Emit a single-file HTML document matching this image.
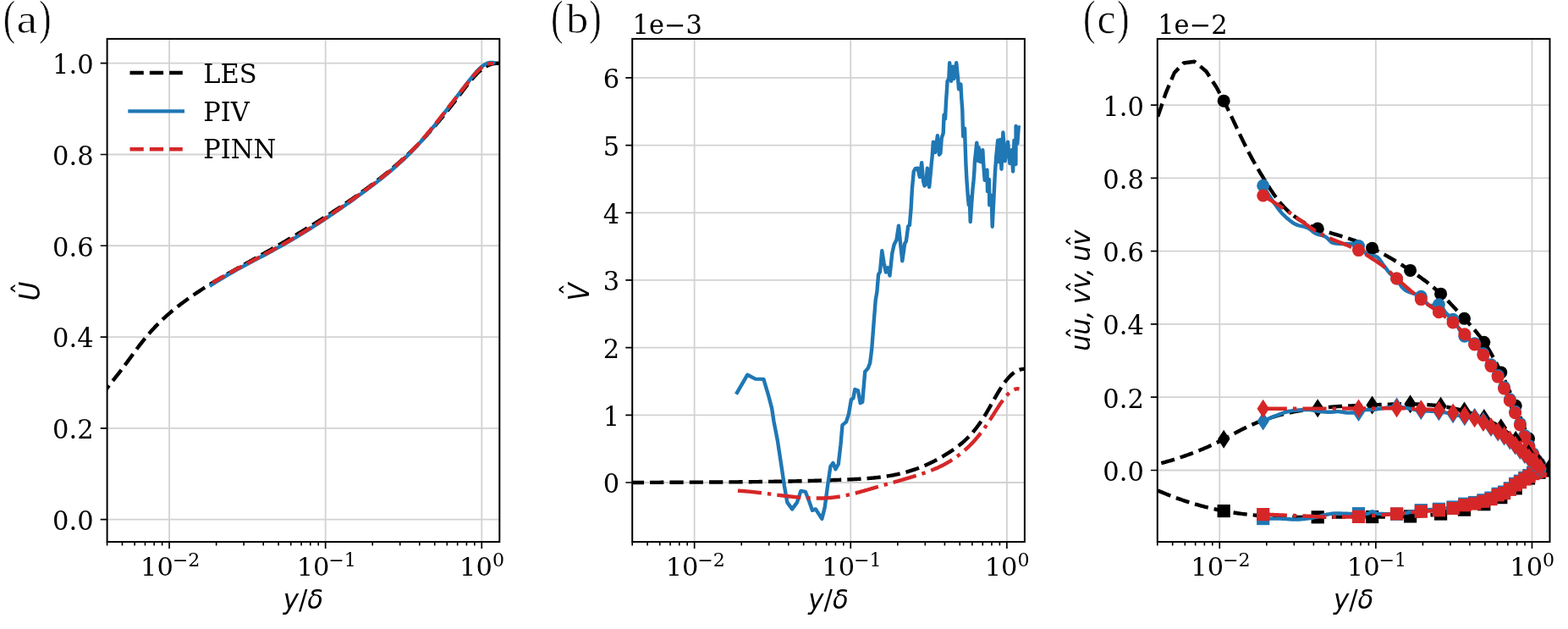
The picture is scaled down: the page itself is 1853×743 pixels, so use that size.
<!DOCTYPE html>
<html lang="en"><head><meta charset="utf-8"><title>Velocity and Reynolds stress profiles</title>
<style>html,body{margin:0;padding:0;background:#fff;overflow:hidden}svg{display:block}text{fill:#000}</style></head><body>
<svg width="1853" height="743" viewBox="0 0 1853 743">
<rect width="1853" height="743" fill="#fff"/>
<defs>
<clipPath id="c0"><rect x="126.6" y="45.9" width="463.7" height="594.2"/></clipPath>
<clipPath id="c1"><rect x="747.2" y="45.9" width="463.7" height="594.2"/></clipPath>
<clipPath id="c2"><rect x="1367.8" y="45.9" width="463.7" height="594.2"/></clipPath>
</defs>
<path d="M200.06 45.9 V640.1 M384.66 45.9 V640.1 M569.27 45.9 V640.1 M126.6 613.6 H590.3 M126.6 505.82 H590.3 M126.6 398.04 H590.3 M126.6 290.26 H590.3 M126.6 182.48 H590.3 M126.6 74.7 H590.3" stroke="#d2d2d2" stroke-width="1.8" fill="none"/>
<g clip-path="url(#c0)">
<path d="M118 469.91 L119.19 468.27 L120.38 466.65 L121.56 465.05 L122.75 463.46 L123.94 461.89 L125.13 460.34 L126.32 458.79 L127.5 457.25 L128.69 455.73 L129.88 454.21 L131.07 452.69 L132.26 451.18 L133.44 449.67 L134.63 448.17 L135.82 446.66 L137.01 445.15 L138.2 443.63 L139.38 442.11 L140.57 440.58 L141.76 439.05 L142.95 437.5 L144.14 435.94 L145.32 434.37 L146.51 432.79 L147.7 431.19 L148.89 429.59 L150.08 427.98 L151.26 426.36 L152.45 424.74 L153.64 423.12 L154.83 421.5 L156.02 419.87 L157.2 418.25 L158.39 416.64 L159.58 415.03 L160.77 413.43 L161.95 411.83 L163.14 410.25 L164.33 408.68 L165.52 407.12 L166.71 405.58 L167.89 404.05 L169.08 402.55 L170.27 401.06 L171.46 399.6 L172.65 398.16 L173.83 396.74 L175.02 395.34 L176.21 393.96 L177.4 392.61 L178.59 391.27 L179.77 389.96 L180.96 388.66 L182.15 387.39 L183.34 386.13 L184.53 384.89 L185.71 383.67 L186.9 382.47 L188.09 381.29 L189.28 380.12 L190.47 378.97 L191.65 377.84 L192.84 376.72 L194.03 375.61 L195.22 374.53 L196.41 373.45 L197.59 372.39 L198.78 371.35 L199.97 370.32 L201.16 369.3 L202.35 368.29 L203.53 367.3 L204.72 366.31 L205.91 365.34 L207.1 364.38 L208.29 363.43 L209.47 362.49 L210.66 361.57 L211.85 360.65 L213.04 359.74 L214.23 358.83 L215.41 357.94 L216.6 357.05 L217.79 356.18 L218.98 355.3 L220.17 354.44 L221.35 353.58 L222.54 352.73 L223.73 351.89 L224.92 351.05 L226.11 350.22 L227.29 349.4 L228.48 348.58 L229.67 347.77 L230.86 346.97 L232.05 346.17 L233.23 345.37 L234.42 344.59 L235.61 343.8 L236.8 343.03 L237.98 342.26 L239.17 341.49 L240.36 340.73 L241.55 339.97 L242.74 339.22 L243.92 338.47 L245.11 337.73 L246.3 336.99 L247.49 336.26 L248.68 335.53 L249.86 334.8 L251.05 334.08 L252.24 333.36 L253.43 332.65 L254.62 331.94 L255.8 331.23 L256.99 330.52 L258.18 329.82 L259.37 329.12 L260.56 328.43 L261.74 327.74 L262.93 327.05 L264.12 326.36 L265.31 325.67 L266.5 324.99 L267.68 324.31 L268.87 323.63 L270.06 322.95 L271.25 322.28 L272.44 321.6 L273.62 320.93 L274.81 320.26 L276 319.59 L277.19 318.92 L278.38 318.26 L279.56 317.59 L280.75 316.93 L281.94 316.26 L283.13 315.6 L284.32 314.93 L285.5 314.27 L286.69 313.6 L287.88 312.94 L289.07 312.28 L290.26 311.61 L291.44 310.95 L292.63 310.28 L293.82 309.62 L295.01 308.95 L296.2 308.29 L297.38 307.62 L298.57 306.95 L299.76 306.29 L300.95 305.62 L302.14 304.95 L303.32 304.28 L304.51 303.62 L305.7 302.95 L306.89 302.28 L308.08 301.61 L309.26 300.94 L310.45 300.27 L311.64 299.59 L312.83 298.92 L314.02 298.25 L315.2 297.57 L316.39 296.9 L317.58 296.22 L318.77 295.55 L319.95 294.87 L321.14 294.19 L322.33 293.51 L323.52 292.83 L324.71 292.15 L325.89 291.47 L327.08 290.78 L328.27 290.1 L329.46 289.42 L330.65 288.73 L331.83 288.04 L333.02 287.35 L334.21 286.67 L335.4 285.97 L336.59 285.28 L337.77 284.59 L338.96 283.9 L340.15 283.2 L341.34 282.5 L342.53 281.81 L343.71 281.11 L344.9 280.41 L346.09 279.71 L347.28 279 L348.47 278.3 L349.65 277.59 L350.84 276.88 L352.03 276.17 L353.22 275.46 L354.41 274.75 L355.59 274.04 L356.78 273.32 L357.97 272.61 L359.16 271.89 L360.35 271.17 L361.53 270.44 L362.72 269.72 L363.91 268.99 L365.1 268.27 L366.29 267.54 L367.47 266.81 L368.66 266.07 L369.85 265.34 L371.04 264.6 L372.23 263.86 L373.41 263.12 L374.6 262.38 L375.79 261.64 L376.98 260.89 L378.17 260.14 L379.35 259.39 L380.54 258.64 L381.73 257.88 L382.92 257.13 L384.11 256.37 L385.29 255.61 L386.48 254.84 L387.67 254.08 L388.86 253.31 L390.05 252.54 L391.23 251.77 L392.42 250.99 L393.61 250.21 L394.8 249.43 L395.98 248.65 L397.17 247.87 L398.36 247.08 L399.55 246.29 L400.74 245.5 L401.92 244.7 L403.11 243.91 L404.3 243.11 L405.49 242.3 L406.68 241.5 L407.86 240.69 L409.05 239.88 L410.24 239.07 L411.43 238.25 L412.62 237.43 L413.8 236.61 L414.99 235.79 L416.18 234.96 L417.37 234.13 L418.56 233.3 L419.74 232.46 L420.93 231.62 L422.12 230.78 L423.31 229.93 L424.5 229.09 L425.68 228.24 L426.87 227.38 L428.06 226.53 L429.25 225.66 L430.44 224.8 L431.62 223.93 L432.81 223.06 L434 222.19 L435.19 221.31 L436.38 220.43 L437.56 219.55 L438.75 218.66 L439.94 217.77 L441.13 216.87 L442.32 215.97 L443.5 215.06 L444.69 214.15 L445.88 213.23 L447.07 212.31 L448.26 211.39 L449.44 210.45 L450.63 209.52 L451.82 208.58 L453.01 207.63 L454.2 206.68 L455.38 205.72 L456.57 204.75 L457.76 203.78 L458.95 202.8 L460.14 201.82 L461.32 200.83 L462.51 199.84 L463.7 198.83 L464.89 197.82 L466.08 196.81 L467.26 195.78 L468.45 194.75 L469.64 193.71 L470.83 192.67 L472.02 191.62 L473.2 190.56 L474.39 189.49 L475.58 188.41 L476.77 187.33 L477.95 186.24 L479.14 185.13 L480.33 184.03 L481.52 182.91 L482.71 181.78 L483.89 180.65 L485.08 179.5 L486.27 178.35 L487.46 177.19 L488.65 176.02 L489.83 174.84 L491.02 173.65 L492.21 172.45 L493.4 171.24 L494.59 170.02 L495.77 168.79 L496.96 167.55 L498.15 166.3 L499.34 165.04 L500.53 163.77 L501.71 162.49 L502.9 161.2 L504.09 159.9 L505.28 158.58 L506.47 157.26 L507.65 155.93 L508.84 154.59 L510.03 153.24 L511.22 151.89 L512.41 150.52 L513.59 149.14 L514.78 147.75 L515.97 146.36 L517.16 144.95 L518.35 143.54 L519.53 142.12 L520.72 140.69 L521.91 139.25 L523.1 137.8 L524.29 136.35 L525.47 134.88 L526.66 133.41 L527.85 131.93 L529.04 130.45 L530.23 128.95 L531.41 127.45 L532.6 125.94 L533.79 124.42 L534.98 122.89 L536.17 121.36 L537.35 119.82 L538.54 118.27 L539.73 116.72 L540.92 115.16 L542.11 113.59 L543.29 112.01 L544.48 110.44 L545.67 108.86 L546.86 107.29 L548.05 105.72 L549.23 104.16 L550.42 102.61 L551.61 101.08 L552.8 99.56 L553.98 98.07 L555.17 96.59 L556.36 95.15 L557.55 93.73 L558.74 92.34 L559.92 90.99 L561.11 89.68 L562.3 88.41 L563.49 87.18 L564.68 86 L565.86 84.87 L567.05 83.79 L568.24 82.77 L569.43 81.8 L570.62 80.9 L571.8 80.06 L572.99 79.29 L574.18 78.57 L575.37 77.93 L576.56 77.34 L577.74 76.82 L578.93 76.36 L580.12 75.95 L581.31 75.61 L582.5 75.33 L583.68 75.11 L584.87 74.95 L586.06 74.84 L587.25 74.79 L588.44 74.8 L589.62 74.87 L590.81 74.99 L592 75.16" fill="none" stroke="#000" stroke-width="4.4" stroke-linejoin="round" stroke-dasharray="16.28 7.04" stroke-dashoffset="-2"/>
<path d="M249.7 336.66 L251.1 335.76 L252.49 334.87 L253.89 333.98 L255.28 333.1 L256.68 332.23 L258.07 331.37 L259.47 330.51 L260.87 329.66 L262.26 328.82 L263.66 327.99 L265.05 327.16 L266.45 326.33 L267.85 325.52 L269.24 324.71 L270.64 323.9 L272.03 323.1 L273.43 322.3 L274.82 321.51 L276.22 320.73 L277.62 319.95 L279.01 319.17 L280.41 318.39 L281.8 317.62 L283.2 316.86 L284.6 316.09 L285.99 315.33 L287.39 314.58 L288.78 313.82 L290.18 313.07 L291.57 312.32 L292.97 311.57 L294.37 310.83 L295.76 310.08 L297.16 309.34 L298.55 308.6 L299.95 307.86 L301.35 307.12 L302.74 306.38 L304.14 305.64 L305.53 304.9 L306.93 304.16 L308.32 303.42 L309.72 302.68 L311.12 301.94 L312.51 301.19 L313.91 300.45 L315.3 299.71 L316.7 298.96 L318.09 298.21 L319.49 297.46 L320.89 296.71 L322.28 295.95 L323.68 295.19 L325.07 294.43 L326.47 293.67 L327.87 292.9 L329.26 292.13 L330.66 291.35 L332.05 290.58 L333.45 289.79 L334.84 289 L336.24 288.21 L337.64 287.42 L339.03 286.62 L340.43 285.81 L341.82 285 L343.22 284.19 L344.62 283.38 L346.01 282.56 L347.41 281.73 L348.8 280.9 L350.2 280.07 L351.59 279.23 L352.99 278.39 L354.39 277.55 L355.78 276.7 L357.18 275.85 L358.57 274.99 L359.97 274.13 L361.37 273.27 L362.76 272.4 L364.16 271.53 L365.55 270.66 L366.95 269.78 L368.34 268.9 L369.74 268.01 L371.14 267.12 L372.53 266.23 L373.93 265.33 L375.32 264.43 L376.72 263.53 L378.12 262.62 L379.51 261.71 L380.91 260.79 L382.3 259.87 L383.7 258.95 L385.09 258.03 L386.49 257.1 L387.89 256.17 L389.28 255.23 L390.68 254.29 L392.07 253.35 L393.47 252.41 L394.86 251.46 L396.26 250.51 L397.66 249.55 L399.05 248.59 L400.45 247.63 L401.84 246.67 L403.24 245.7 L404.64 244.73 L406.03 243.76 L407.43 242.78 L408.82 241.8 L410.22 240.81 L411.61 239.83 L413.01 238.84 L414.41 237.85 L415.8 236.85 L417.2 235.85 L418.59 234.85 L419.99 233.85 L421.39 232.84 L422.78 231.83 L424.18 230.82 L425.57 229.8 L426.97 228.79 L428.36 227.76 L429.76 226.74 L431.16 225.71 L432.55 224.68 L433.95 223.65 L435.34 222.61 L436.74 221.57 L438.14 220.53 L439.53 219.47 L440.93 218.42 L442.32 217.36 L443.72 216.29 L445.11 215.21 L446.51 214.13 L447.91 213.04 L449.3 211.95 L450.7 210.85 L452.09 209.74 L453.49 208.62 L454.88 207.49 L456.28 206.35 L457.68 205.21 L459.07 204.05 L460.47 202.89 L461.86 201.71 L463.26 200.53 L464.66 199.33 L466.05 198.13 L467.45 196.91 L468.84 195.68 L470.24 194.43 L471.63 193.18 L473.03 191.91 L474.43 190.63 L475.82 189.33 L477.22 188.02 L478.61 186.7 L480.01 185.36 L481.41 184.01 L482.8 182.64 L484.2 181.26 L485.59 179.86 L486.99 178.44 L488.38 177.01 L489.78 175.57 L491.18 174.1 L492.57 172.62 L493.97 171.12 L495.36 169.6 L496.76 168.06 L498.16 166.5 L499.55 164.93 L500.95 163.34 L502.34 161.72 L503.74 160.1 L505.13 158.45 L506.53 156.79 L507.93 155.12 L509.32 153.43 L510.72 151.72 L512.11 150.01 L513.51 148.28 L514.91 146.54 L516.3 144.78 L517.7 143.02 L519.09 141.25 L520.49 139.47 L521.88 137.68 L523.28 135.89 L524.68 134.08 L526.07 132.27 L527.47 130.46 L528.86 128.64 L530.26 126.81 L531.65 124.99 L533.05 123.15 L534.45 121.32 L535.84 119.49 L537.24 117.65 L538.63 115.82 L540.03 113.98 L541.43 112.15 L542.82 110.32 L544.22 108.49 L545.61 106.66 L547.01 104.84 L548.4 103.02 L549.8 101.21 L551.2 99.41 L552.59 97.61 L553.99 95.82 L555.38 94.03 L556.78 92.27 L558.18 90.54 L559.57 88.84 L560.97 87.19 L562.36 85.59 L563.76 84.06 L565.15 82.6 L566.55 81.22 L567.95 79.93 L569.34 78.75 L570.74 77.67 L572.13 76.71 L573.53 75.88 L574.93 75.18 L576.32 74.63 L577.72 74.21 L579.11 73.95 L580.51 73.84 L581.9 73.89 L583.3 74.1" fill="none" stroke="#1f77b4" stroke-width="4.4" stroke-linejoin="round" stroke-linecap="square"/>
<path d="M249.7 335.06 L251.1 334.19 L252.49 333.33 L253.89 332.47 L255.28 331.63 L256.68 330.79 L258.07 329.96 L259.47 329.13 L260.87 328.32 L262.26 327.5 L263.66 326.7 L265.05 325.9 L266.45 325.11 L267.85 324.33 L269.24 323.55 L270.64 322.77 L272.03 322 L273.43 321.24 L274.82 320.48 L276.22 319.72 L277.62 318.97 L279.01 318.23 L280.41 317.48 L281.8 316.75 L283.2 316.01 L284.6 315.28 L285.99 314.55 L287.39 313.82 L288.78 313.1 L290.18 312.37 L291.57 311.62 L292.97 310.87 L294.37 310.13 L295.76 309.38 L297.16 308.64 L298.55 307.9 L299.95 307.16 L301.35 306.42 L302.74 305.68 L304.14 304.94 L305.53 304.2 L306.93 303.46 L308.32 302.72 L309.72 301.98 L311.12 301.24 L312.51 300.49 L313.91 299.75 L315.3 299.01 L316.7 298.26 L318.09 297.51 L319.49 296.76 L320.89 296.01 L322.28 295.25 L323.68 294.49 L325.07 293.73 L326.47 292.97 L327.87 292.2 L329.26 291.43 L330.66 290.65 L332.05 289.88 L333.45 289.09 L334.84 288.3 L336.24 287.51 L337.64 286.72 L339.03 285.92 L340.43 285.11 L341.82 284.3 L343.22 283.49 L344.62 282.68 L346.01 281.86 L347.41 281.03 L348.8 280.2 L350.2 279.37 L351.59 278.53 L352.99 277.69 L354.39 276.85 L355.78 276 L357.18 275.15 L358.57 274.29 L359.97 273.43 L361.37 272.57 L362.76 271.7 L364.16 270.83 L365.55 269.96 L366.95 269.08 L368.34 268.2 L369.74 267.31 L371.14 266.42 L372.53 265.53 L373.93 264.63 L375.32 263.73 L376.72 262.83 L378.12 261.92 L379.51 261.01 L380.91 260.09 L382.3 259.17 L383.7 258.25 L385.09 257.33 L386.49 256.4 L387.89 255.47 L389.28 254.53 L390.68 253.59 L392.07 252.65 L393.47 251.71 L394.86 250.76 L396.26 249.81 L397.66 248.85 L399.05 247.89 L400.45 246.93 L401.84 245.97 L403.24 245 L404.64 244.03 L406.03 243.06 L407.43 242.08 L408.82 241.1 L410.22 240.11 L411.61 239.13 L413.01 238.14 L414.41 237.15 L415.8 236.15 L417.2 235.15 L418.59 234.15 L419.99 233.15 L421.39 232.14 L422.78 231.13 L424.18 230.12 L425.57 229.1 L426.97 228.09 L428.36 227.06 L429.76 226.04 L431.16 225.01 L432.55 223.98 L433.95 222.95 L435.34 221.91 L436.74 220.87 L438.14 219.83 L439.53 218.77 L440.93 217.72 L442.32 216.66 L443.72 215.59 L445.11 214.51 L446.51 213.43 L447.91 212.34 L449.3 211.25 L450.7 210.15 L452.09 209.04 L453.49 207.92 L454.88 206.79 L456.28 205.65 L457.68 204.51 L459.07 203.35 L460.47 202.19 L461.86 201.01 L463.26 199.83 L464.66 198.63 L466.05 197.43 L467.45 196.21 L468.84 194.98 L470.24 193.73 L471.63 192.48 L473.03 191.21 L474.43 189.93 L475.82 188.63 L477.22 187.32 L478.61 186 L480.01 184.66 L481.41 183.31 L482.8 181.94 L484.2 180.56 L485.59 179.16 L486.99 177.74 L488.38 176.31 L489.78 174.87 L491.18 173.4 L492.57 171.92 L493.97 170.42 L495.36 168.9 L496.76 167.36 L498.16 165.8 L499.55 164.23 L500.95 162.64 L502.34 161.02 L503.74 159.4 L505.13 157.75 L506.53 156.09 L507.93 154.42 L509.32 152.73 L510.72 151.02 L512.11 149.31 L513.51 147.58 L514.91 145.84 L516.3 144.08 L517.7 142.32 L519.09 140.55 L520.49 138.79 L521.88 137.05 L523.28 135.3 L524.68 133.54 L526.07 131.78 L527.47 130.02 L528.86 128.24 L530.26 126.47 L531.65 124.69 L533.05 122.91 L534.45 121.12 L535.84 119.33 L537.24 117.55 L538.63 115.76 L540.03 113.97 L541.43 112.19 L542.82 110.41 L544.22 108.63 L545.61 106.85 L547.01 105.07 L548.4 103.31 L549.8 101.54 L551.2 99.78 L552.59 98.03 L553.99 96.29 L555.38 94.56 L556.78 92.84 L558.18 91.16 L559.57 89.51 L560.97 87.9 L562.36 86.35 L563.76 84.87 L565.15 83.46 L566.55 82.13 L567.95 80.89 L569.34 79.75 L570.74 78.72 L572.13 77.81 L573.53 77.03 L574.93 76.38 L576.32 75.83 L577.72 75.41 L579.11 75.15 L580.51 75.04 L581.9 75.09 L583.3 75.3" fill="none" stroke="#d62728" stroke-width="4.4" stroke-linejoin="round" stroke-dasharray="16.28 7.04" stroke-dashoffset="-1.8"/>
</g>
<path d="M200.06 640.1 v7.9 M384.66 640.1 v7.9 M569.27 640.1 v7.9 M126.6 613.6 h-7.9 M126.6 505.82 h-7.9 M126.6 398.04 h-7.9 M126.6 290.26 h-7.9 M126.6 182.48 h-7.9 M126.6 74.7 h-7.9" stroke="#000" stroke-width="1.7" fill="none"/>
<path d="M126.6 640.1 v4.5 M144.49 640.1 v4.5 M159.11 640.1 v4.5 M171.47 640.1 v4.5 M182.17 640.1 v4.5 M191.61 640.1 v4.5 M255.63 640.1 v4.5 M288.14 640.1 v4.5 M311.2 640.1 v4.5 M329.09 640.1 v4.5 M343.71 640.1 v4.5 M356.07 640.1 v4.5 M366.77 640.1 v4.5 M376.22 640.1 v4.5 M440.23 640.1 v4.5 M472.74 640.1 v4.5 M495.81 640.1 v4.5 M513.69 640.1 v4.5 M528.31 640.1 v4.5 M540.67 640.1 v4.5 M551.38 640.1 v4.5 M560.82 640.1 v4.5" stroke="#000" stroke-width="1.6" fill="none"/>
<rect x="126.6" y="45.9" width="463.7" height="594.2" fill="none" stroke="#000" stroke-width="2.0"/>
<text transform="translate(166.03 679.5) scale(1 0.985)" font-family="'DejaVu Serif','Liberation Serif',serif" font-size="30.5">10<tspan dx="-1.1" dy="-11.07" font-size="22.1">−2</tspan></text>
<text transform="translate(350.63 679.5) scale(1 0.985)" font-family="'DejaVu Serif','Liberation Serif',serif" font-size="30.5">10<tspan dx="-1.1" dy="-11.07" font-size="22.1">−1</tspan></text>
<text transform="translate(543.08 679.5) scale(1 0.985)" font-family="'DejaVu Serif','Liberation Serif',serif" font-size="30.5">10<tspan dx="-0" dy="-11.07" font-size="22.1">0</tspan></text>
<text transform="translate(110.6 626) scale(1 1.012)" text-anchor="end" font-family="'DejaVu Serif','Liberation Serif',serif" font-size="30.5">0.0</text>
<text transform="translate(110.6 518.22) scale(1 1.012)" text-anchor="end" font-family="'DejaVu Serif','Liberation Serif',serif" font-size="30.5">0.2</text>
<text transform="translate(110.6 410.44) scale(1 1.012)" text-anchor="end" font-family="'DejaVu Serif','Liberation Serif',serif" font-size="30.5">0.4</text>
<text transform="translate(110.6 302.66) scale(1 1.012)" text-anchor="end" font-family="'DejaVu Serif','Liberation Serif',serif" font-size="30.5">0.6</text>
<text transform="translate(110.6 194.88) scale(1 1.012)" text-anchor="end" font-family="'DejaVu Serif','Liberation Serif',serif" font-size="30.5">0.8</text>
<text transform="translate(110.6 87.1) scale(1 1.012)" text-anchor="end" font-family="'DejaVu Serif','Liberation Serif',serif" font-size="30.5">1.0</text>
<text transform="translate(358.45 719.4) scale(1 1.06)" text-anchor="middle" font-family="'DejaVu Sans','Liberation Sans',sans-serif" font-size="30.8"><tspan font-style="italic">y</tspan>/<tspan font-style="italic">δ</tspan></text>
<path d="M820.66 45.9 V640.1 M1005.26 45.9 V640.1 M1189.87 45.9 V640.1 M747.2 570 H1210.9 M747.2 490.32 H1210.9 M747.2 410.64 H1210.9 M747.2 330.96 H1210.9 M747.2 251.28 H1210.9 M747.2 171.6 H1210.9 M747.2 91.92 H1210.9" stroke="#d2d2d2" stroke-width="1.8" fill="none"/>
<g clip-path="url(#c1)">
<path d="M740 570.08 L741.59 570.07 L743.18 570.05 L744.78 570.04 L746.37 570.03 L747.96 570.02 L749.55 570.01 L751.14 569.99 L752.74 569.98 L754.33 569.97 L755.92 569.96 L757.51 569.95 L759.1 569.94 L760.7 569.93 L762.29 569.92 L763.88 569.91 L765.47 569.9 L767.06 569.89 L768.66 569.89 L770.25 569.88 L771.84 569.87 L773.43 569.86 L775.02 569.85 L776.62 569.84 L778.21 569.84 L779.8 569.83 L781.39 569.82 L782.98 569.81 L784.58 569.8 L786.17 569.8 L787.76 569.79 L789.35 569.78 L790.94 569.78 L792.54 569.77 L794.13 569.76 L795.72 569.75 L797.31 569.75 L798.9 569.74 L800.49 569.73 L802.09 569.73 L803.68 569.72 L805.27 569.71 L806.86 569.71 L808.45 569.7 L810.05 569.69 L811.64 569.69 L813.23 569.68 L814.82 569.67 L816.41 569.67 L818.01 569.66 L819.6 569.65 L821.19 569.64 L822.78 569.64 L824.37 569.63 L825.97 569.62 L827.56 569.61 L829.15 569.61 L830.74 569.6 L832.33 569.59 L833.93 569.58 L835.52 569.57 L837.11 569.57 L838.7 569.56 L840.29 569.55 L841.89 569.54 L843.48 569.53 L845.07 569.52 L846.66 569.51 L848.25 569.5 L849.85 569.49 L851.44 569.48 L853.03 569.47 L854.62 569.46 L856.21 569.45 L857.81 569.44 L859.4 569.43 L860.99 569.42 L862.58 569.41 L864.17 569.39 L865.77 569.38 L867.36 569.37 L868.95 569.36 L870.54 569.34 L872.13 569.33 L873.73 569.32 L875.32 569.3 L876.91 569.29 L878.5 569.27 L880.09 569.26 L881.69 569.24 L883.28 569.23 L884.87 569.21 L886.46 569.19 L888.05 569.18 L889.65 569.16 L891.24 569.14 L892.83 569.12 L894.42 569.1 L896.01 569.08 L897.61 569.06 L899.2 569.04 L900.79 569.02 L902.38 569 L903.97 568.98 L905.57 568.96 L907.16 568.94 L908.75 568.91 L910.34 568.89 L911.93 568.87 L913.53 568.84 L915.12 568.82 L916.71 568.79 L918.3 568.76 L919.89 568.74 L921.48 568.71 L923.08 568.68 L924.67 568.65 L926.26 568.63 L927.85 568.6 L929.44 568.57 L931.04 568.53 L932.63 568.5 L934.22 568.47 L935.81 568.44 L937.4 568.41 L939 568.37 L940.59 568.34 L942.18 568.3 L943.77 568.27 L945.36 568.23 L946.96 568.19 L948.55 568.15 L950.14 568.12 L951.73 568.08 L953.32 568.04 L954.92 568 L956.51 567.95 L958.1 567.91 L959.69 567.87 L961.28 567.83 L962.88 567.78 L964.47 567.74 L966.06 567.69 L967.65 567.64 L969.24 567.6 L970.84 567.55 L972.43 567.5 L974.02 567.45 L975.61 567.4 L977.2 567.35 L978.8 567.29 L980.39 567.24 L981.98 567.19 L983.57 567.13 L985.16 567.07 L986.76 567.02 L988.35 566.96 L989.94 566.9 L991.53 566.84 L993.12 566.78 L994.72 566.72 L996.31 566.66 L997.9 566.6 L999.49 566.53 L1001.08 566.47 L1002.68 566.4 L1004.27 566.33 L1005.86 566.26 L1007.45 566.19 L1009.04 566.12 L1010.64 566.04 L1012.23 565.96 L1013.82 565.88 L1015.41 565.79 L1017 565.7 L1018.6 565.6 L1020.19 565.5 L1021.78 565.39 L1023.37 565.28 L1024.96 565.16 L1026.56 565.04 L1028.15 564.91 L1029.74 564.77 L1031.33 564.62 L1032.92 564.47 L1034.52 564.31 L1036.11 564.14 L1037.7 563.96 L1039.29 563.77 L1040.88 563.58 L1042.47 563.37 L1044.07 563.16 L1045.66 562.93 L1047.25 562.69 L1048.84 562.44 L1050.43 562.18 L1052.03 561.91 L1053.62 561.63 L1055.21 561.34 L1056.8 561.03 L1058.39 560.71 L1059.99 560.37 L1061.58 560.02 L1063.17 559.66 L1064.76 559.28 L1066.35 558.89 L1067.95 558.48 L1069.54 558.06 L1071.13 557.62 L1072.72 557.17 L1074.31 556.7 L1075.91 556.21 L1077.5 555.71 L1079.09 555.19 L1080.68 554.65 L1082.27 554.09 L1083.87 553.51 L1085.46 552.92 L1087.05 552.3 L1088.64 551.67 L1090.23 551.02 L1091.83 550.35 L1093.42 549.67 L1095.01 548.96 L1096.6 548.24 L1098.19 547.5 L1099.79 546.74 L1101.38 545.96 L1102.97 545.16 L1104.56 544.35 L1106.15 543.52 L1107.75 542.67 L1109.34 541.8 L1110.93 540.92 L1112.52 540.02 L1114.11 539.1 L1115.71 538.16 L1117.3 537.2 L1118.89 536.23 L1120.48 535.24 L1122.07 534.23 L1123.67 533.2 L1125.26 532.14 L1126.85 531.05 L1128.44 529.93 L1130.03 528.78 L1131.63 527.58 L1133.22 526.35 L1134.81 525.08 L1136.4 523.76 L1137.99 522.39 L1139.59 520.97 L1141.18 519.49 L1142.77 517.96 L1144.36 516.36 L1145.95 514.71 L1147.55 512.98 L1149.14 511.19 L1150.73 509.33 L1152.32 507.39 L1153.91 505.38 L1155.51 503.28 L1157.1 501.1 L1158.69 498.83 L1160.28 496.48 L1161.87 494.03 L1163.46 491.49 L1165.06 488.86 L1166.65 486.16 L1168.24 483.41 L1169.83 480.61 L1171.42 477.79 L1173.02 474.96 L1174.61 472.14 L1176.2 469.34 L1177.79 466.58 L1179.38 463.87 L1180.98 461.24 L1182.57 458.69 L1184.16 456.24 L1185.75 453.91 L1187.34 451.7 L1188.94 449.62 L1190.53 447.67 L1192.12 445.86 L1193.71 444.18 L1195.3 442.66 L1196.9 441.28 L1198.49 440.05 L1200.08 438.98 L1201.67 438.07 L1203.26 437.32 L1204.86 436.75 L1206.45 436.33 L1208.04 436.05 L1209.63 435.9 L1211.22 435.86 L1212.82 435.92 L1214.41 436.05 L1216 436.24" fill="none" stroke="#000" stroke-width="4.4" stroke-linejoin="round" stroke-dasharray="16.28 7.04" stroke-dashoffset="-4.8"/>
<path d="M871.1 463.7 L883.3 442.7 L892.7 447.6 L902.4 447.9 L907.9 466.3 L912.1 482.1 L914.5 497.8 L918.8 520 L922.9 546.9 L926.9 573.8 L930.3 593.4 L936.1 601.4 L942 593.4 L946.4 579.9 L951.8 580.8 L955.9 591.3 L959.9 602.8 L963.9 601.4 L971.3 612.9 L974.7 599.4 L978.1 573.8 L981.4 551 L984.5 546.9 L987.5 554.3 L990.8 548.3 L993.4 526 L995.5 502.1 L1000 498.4 L1002.9 489.5 L1005.9 472.1 L1008.4 470.3 L1010.3 460 L1014 461.4 L1016.7 476.2 L1019.2 474.8 L1022.2 439.2 L1025.9 434.8 L1028.1 428.9 L1029.3 420 L1030.3 411.3 L1032.3 385.1 L1034.7 354.7 L1036.4 344.6 L1038.1 324.3 L1040 320.9 L1042.3 296.3 L1044.6 310.6 L1046.9 321.5 L1049.2 316.3 L1051.5 325.5 L1054.3 299.2 L1056.6 288.9 L1059.5 283.2 L1062 266.6 L1064 286.6 L1066.3 308.3 L1069.2 287.7 L1070.9 284.9 L1073.2 267.2 L1074.9 266 L1076.5 247.8 L1077.9 223.3 L1079.8 202.5 L1081.7 199.2 L1084.5 198.8 L1086.9 209.1 L1089.2 192.2 L1091.1 213.9 L1092.5 219.5 L1094.4 217.6 L1095.8 198.8 L1098.2 220.9 L1100.1 200.7 L1101 190.5 L1101.5 186.6 L1102.9 167.7 L1105.2 180 L1107.9 160.2 L1110 182.8 L1111.4 180.9 L1112.8 163 L1114.7 157.3 L1115.6 135.7 L1117 140.4 L1118 120.3 L1118.9 107.1 L1119.6 95.8 L1121.3 93 L1122.2 74.1 L1124.1 95.8 L1126 78.8 L1127.4 93 L1130.2 74.1 L1132.1 93 L1133 105.2 L1135.4 99.6 L1136.3 116.5 L1137.3 130 L1137.8 148.9 L1138.2 161.1 L1140.1 151.7 L1140.6 170.5 L1141.5 195 L1142.5 213.9 L1143.9 232.7 L1144.8 242.1 L1145.8 232.7 L1146.7 262 L1148.1 242.1 L1149.5 223.3 L1150.5 213.9 L1151.4 202.5 L1151.9 191.3 L1154.3 168.6 L1156.1 190.3 L1156.6 174.3 L1159 191.3 L1161.3 177.1 L1162.3 195 L1163.7 212.9 L1166.5 200.7 L1167 226.1 L1168.9 212 L1169.3 242.1 L1171.7 230.8 L1172.7 267.7 L1174.5 232.7 L1175.9 204.4 L1177.3 184.7 L1179.2 165.8 L1180.6 191.3 L1182.1 164.9 L1183.5 199.7 L1185.4 156.4 L1187.7 190.3 L1191 167.7 L1193.4 193.1 L1195.7 177.1 L1197.1 202.5 L1198.5 165.8 L1200.4 194.1 L1200.6 148.9 L1202.3 169.6 L1203.7 150.3" fill="none" stroke="#1f77b4" stroke-width="4.4" stroke-linejoin="round" stroke-linecap="square"/>
<path d="M871.9 579.7 L873.01 579.76 L874.12 579.82 L875.24 579.89 L876.35 579.96 L877.46 580.04 L878.57 580.12 L879.69 580.2 L880.8 580.29 L881.91 580.38 L883.02 580.48 L884.14 580.57 L885.25 580.68 L886.36 580.78 L887.47 580.89 L888.59 581 L889.7 581.12 L890.81 581.23 L891.92 581.35 L893.04 581.48 L894.15 581.6 L895.26 581.73 L896.37 581.86 L897.48 581.99 L898.6 582.12 L899.71 582.25 L900.82 582.39 L901.93 582.53 L903.05 582.67 L904.16 582.81 L905.27 582.95 L906.38 583.09 L907.5 583.23 L908.61 583.38 L909.72 583.52 L910.83 583.66 L911.95 583.81 L913.06 583.95 L914.17 584.1 L915.28 584.24 L916.39 584.39 L917.51 584.53 L918.62 584.68 L919.73 584.82 L920.84 584.96 L921.96 585.1 L923.07 585.24 L924.18 585.38 L925.29 585.52 L926.41 585.66 L927.52 585.79 L928.63 585.92 L929.74 586.06 L930.86 586.19 L931.97 586.31 L933.08 586.44 L934.19 586.56 L935.31 586.68 L936.42 586.8 L937.53 586.92 L938.64 587.03 L939.75 587.14 L940.87 587.25 L941.98 587.35 L943.09 587.45 L944.2 587.55 L945.32 587.64 L946.43 587.73 L947.54 587.82 L948.65 587.9 L949.77 587.98 L950.88 588.05 L951.99 588.12 L953.1 588.18 L954.22 588.24 L955.33 588.3 L956.44 588.35 L957.55 588.39 L958.67 588.44 L959.78 588.47 L960.89 588.5 L962 588.52 L963.11 588.54 L964.23 588.56 L965.34 588.56 L966.45 588.56 L967.56 588.56 L968.68 588.55 L969.79 588.53 L970.9 588.5 L972.01 588.47 L973.13 588.44 L974.24 588.39 L975.35 588.34 L976.46 588.28 L977.58 588.21 L978.69 588.14 L979.8 588.06 L980.91 587.97 L982.03 587.87 L983.14 587.77 L984.25 587.65 L985.36 587.53 L986.47 587.4 L987.59 587.27 L988.7 587.12 L989.81 586.96 L990.92 586.8 L992.04 586.63 L993.15 586.45 L994.26 586.26 L995.37 586.06 L996.49 585.85 L997.6 585.63 L998.71 585.41 L999.82 585.18 L1000.94 584.94 L1002.05 584.7 L1003.16 584.45 L1004.27 584.19 L1005.38 583.93 L1006.5 583.66 L1007.61 583.39 L1008.72 583.11 L1009.83 582.83 L1010.95 582.54 L1012.06 582.25 L1013.17 581.95 L1014.28 581.65 L1015.4 581.35 L1016.51 581.04 L1017.62 580.73 L1018.73 580.41 L1019.85 580.1 L1020.96 579.78 L1022.07 579.46 L1023.18 579.14 L1024.3 578.82 L1025.41 578.49 L1026.52 578.17 L1027.63 577.84 L1028.74 577.52 L1029.86 577.19 L1030.97 576.86 L1032.08 576.54 L1033.19 576.21 L1034.31 575.89 L1035.42 575.57 L1036.53 575.24 L1037.64 574.92 L1038.76 574.6 L1039.87 574.29 L1040.98 573.97 L1042.09 573.65 L1043.21 573.33 L1044.32 573.02 L1045.43 572.7 L1046.54 572.39 L1047.66 572.07 L1048.77 571.76 L1049.88 571.44 L1050.99 571.13 L1052.1 570.81 L1053.22 570.5 L1054.33 570.19 L1055.44 569.87 L1056.55 569.55 L1057.67 569.24 L1058.78 568.92 L1059.89 568.61 L1061 568.29 L1062.12 567.97 L1063.23 567.65 L1064.34 567.33 L1065.45 567.01 L1066.57 566.69 L1067.68 566.36 L1068.79 566.04 L1069.9 565.71 L1071.02 565.38 L1072.13 565.05 L1073.24 564.72 L1074.35 564.39 L1075.46 564.06 L1076.58 563.72 L1077.69 563.38 L1078.8 563.04 L1079.91 562.7 L1081.03 562.35 L1082.14 562.01 L1083.25 561.66 L1084.36 561.31 L1085.48 560.95 L1086.59 560.59 L1087.7 560.23 L1088.81 559.86 L1089.93 559.49 L1091.04 559.12 L1092.15 558.74 L1093.26 558.35 L1094.37 557.96 L1095.49 557.56 L1096.6 557.15 L1097.71 556.74 L1098.82 556.32 L1099.94 555.89 L1101.05 555.46 L1102.16 555.01 L1103.27 554.56 L1104.39 554.09 L1105.5 553.62 L1106.61 553.13 L1107.72 552.64 L1108.84 552.13 L1109.95 551.62 L1111.06 551.09 L1112.17 550.55 L1113.29 549.99 L1114.4 549.43 L1115.51 548.85 L1116.62 548.25 L1117.73 547.65 L1118.85 547.02 L1119.96 546.39 L1121.07 545.73 L1122.18 545.07 L1123.3 544.38 L1124.41 543.68 L1125.52 542.97 L1126.63 542.23 L1127.75 541.48 L1128.86 540.71 L1129.97 539.92 L1131.08 539.12 L1132.2 538.29 L1133.31 537.45 L1134.42 536.58 L1135.53 535.7 L1136.65 534.79 L1137.76 533.87 L1138.87 532.92 L1139.98 531.95 L1141.09 530.96 L1142.21 529.94 L1143.32 528.91 L1144.43 527.85 L1145.54 526.76 L1146.66 525.65 L1147.77 524.52 L1148.88 523.36 L1149.99 522.18 L1151.11 520.97 L1152.22 519.73 L1153.33 518.46 L1154.44 517.17 L1155.56 515.85 L1156.67 514.5 L1157.78 513.12 L1158.89 511.71 L1160.01 510.27 L1161.12 508.81 L1162.23 507.31 L1163.34 505.77 L1164.45 504.21 L1165.57 502.61 L1166.68 500.99 L1167.79 499.32 L1168.9 497.63 L1170.02 495.91 L1171.13 494.17 L1172.24 492.41 L1173.35 490.65 L1174.47 488.88 L1175.58 487.11 L1176.69 485.35 L1177.8 483.6 L1178.92 481.86 L1180.03 480.15 L1181.14 478.47 L1182.25 476.83 L1183.36 475.22 L1184.48 473.66 L1185.59 472.15 L1186.7 470.69 L1187.81 469.3 L1188.93 467.97 L1190.04 466.71 L1191.15 465.54 L1192.26 464.44 L1193.38 463.44 L1194.49 462.53 L1195.6 461.72 L1196.71 461.02 L1197.83 460.42 L1198.94 459.94 L1200.05 459.59 L1201.16 459.36 L1202.28 459.26 L1203.39 459.31 L1204.5 459.49" fill="none" stroke="#d62728" stroke-width="4.4" stroke-linejoin="round" stroke-dasharray="28.16 7.04 4.4 7.04"/>
</g>
<path d="M820.66 640.1 v7.9 M1005.26 640.1 v7.9 M1189.87 640.1 v7.9 M747.2 570 h-7.9 M747.2 490.32 h-7.9 M747.2 410.64 h-7.9 M747.2 330.96 h-7.9 M747.2 251.28 h-7.9 M747.2 171.6 h-7.9 M747.2 91.92 h-7.9" stroke="#000" stroke-width="1.7" fill="none"/>
<path d="M747.2 640.1 v4.5 M765.09 640.1 v4.5 M779.71 640.1 v4.5 M792.07 640.1 v4.5 M802.77 640.1 v4.5 M812.21 640.1 v4.5 M876.23 640.1 v4.5 M908.74 640.1 v4.5 M931.8 640.1 v4.5 M949.69 640.1 v4.5 M964.31 640.1 v4.5 M976.67 640.1 v4.5 M987.37 640.1 v4.5 M996.82 640.1 v4.5 M1060.83 640.1 v4.5 M1093.34 640.1 v4.5 M1116.41 640.1 v4.5 M1134.29 640.1 v4.5 M1148.91 640.1 v4.5 M1161.27 640.1 v4.5 M1171.98 640.1 v4.5 M1181.42 640.1 v4.5" stroke="#000" stroke-width="1.6" fill="none"/>
<rect x="747.2" y="45.9" width="463.7" height="594.2" fill="none" stroke="#000" stroke-width="2.0"/>
<text transform="translate(786.63 679.5) scale(1 0.985)" font-family="'DejaVu Serif','Liberation Serif',serif" font-size="30.5">10<tspan dx="-1.1" dy="-11.07" font-size="22.1">−2</tspan></text>
<text transform="translate(971.23 679.5) scale(1 0.985)" font-family="'DejaVu Serif','Liberation Serif',serif" font-size="30.5">10<tspan dx="-1.1" dy="-11.07" font-size="22.1">−1</tspan></text>
<text transform="translate(1163.68 679.5) scale(1 0.985)" font-family="'DejaVu Serif','Liberation Serif',serif" font-size="30.5">10<tspan dx="-0" dy="-11.07" font-size="22.1">0</tspan></text>
<text transform="translate(732.2 582.4) scale(1 1.012)" text-anchor="end" font-family="'DejaVu Serif','Liberation Serif',serif" font-size="30.5">0</text>
<text transform="translate(732.2 502.72) scale(1 1.012)" text-anchor="end" font-family="'DejaVu Serif','Liberation Serif',serif" font-size="30.5">1</text>
<text transform="translate(732.2 423.04) scale(1 1.012)" text-anchor="end" font-family="'DejaVu Serif','Liberation Serif',serif" font-size="30.5">2</text>
<text transform="translate(732.2 343.36) scale(1 1.012)" text-anchor="end" font-family="'DejaVu Serif','Liberation Serif',serif" font-size="30.5">3</text>
<text transform="translate(732.2 263.68) scale(1 1.012)" text-anchor="end" font-family="'DejaVu Serif','Liberation Serif',serif" font-size="30.5">4</text>
<text transform="translate(732.2 184) scale(1 1.012)" text-anchor="end" font-family="'DejaVu Serif','Liberation Serif',serif" font-size="30.5">5</text>
<text transform="translate(732.2 104.32) scale(1 1.012)" text-anchor="end" font-family="'DejaVu Serif','Liberation Serif',serif" font-size="30.5">6</text>
<text transform="translate(979.05 719.4) scale(1 1.06)" text-anchor="middle" font-family="'DejaVu Sans','Liberation Sans',sans-serif" font-size="30.8"><tspan font-style="italic">y</tspan>/<tspan font-style="italic">δ</tspan></text>
<path d="M1441.26 45.9 V640.1 M1625.86 45.9 V640.1 M1810.47 45.9 V640.1 M1367.8 555.5 H1831.5 M1367.8 469.22 H1831.5 M1367.8 382.94 H1831.5 M1367.8 296.66 H1831.5 M1367.8 210.38 H1831.5 M1367.8 124.1 H1831.5" stroke="#d2d2d2" stroke-width="1.8" fill="none"/>
<g clip-path="url(#c2)">
<path d="M1357.6 171.6 L1367.9 138.7 L1377.6 110.2 L1387.8 86 L1398.7 74.5 L1411.5 72.7 L1425.4 84.2 L1437.5 103 L1446.2 119.3 L1448.03 122.79 L1449.35 125.45 L1450.67 128.15 L1451.98 130.87 L1453.3 133.61 L1454.62 136.37 L1455.93 139.15 L1457.25 141.93 L1458.57 144.73 L1459.88 147.53 L1461.2 150.32 L1462.52 153.12 L1463.83 155.9 L1465.15 158.68 L1466.47 161.43 L1467.78 164.17 L1469.1 166.89 L1470.42 169.57 L1471.73 172.23 L1473.05 174.85 L1474.37 177.43 L1475.68 179.96 L1477 182.46 L1478.32 184.91 L1479.64 187.32 L1480.95 189.7 L1482.27 192.04 L1483.59 194.35 L1484.9 196.64 L1486.22 198.9 L1487.54 201.13 L1488.85 203.35 L1490.17 205.55 L1491.49 207.73 L1492.8 209.9 L1494.12 212.06 L1495.44 214.21 L1496.75 216.34 L1498.07 218.45 L1499.39 220.53 L1500.7 222.59 L1502.02 224.6 L1503.34 226.58 L1504.65 228.52 L1505.97 230.4 L1507.29 232.24 L1508.6 234.02 L1509.92 235.74 L1511.24 237.41 L1512.55 239.02 L1513.87 240.58 L1515.19 242.08 L1516.5 243.54 L1517.82 244.94 L1519.14 246.3 L1520.45 247.61 L1521.77 248.87 L1523.09 250.09 L1524.4 251.27 L1525.72 252.4 L1527.04 253.49 L1528.35 254.54 L1529.67 255.56 L1530.99 256.54 L1532.3 257.48 L1533.62 258.38 L1534.94 259.25 L1536.25 260.09 L1537.57 260.9 L1538.89 261.68 L1540.2 262.43 L1541.52 263.15 L1542.84 263.85 L1544.15 264.52 L1545.47 265.17 L1546.79 265.8 L1548.1 266.4 L1549.42 266.99 L1550.74 267.55 L1552.05 268.1 L1553.37 268.63 L1554.69 269.15 L1556.01 269.65 L1557.32 270.14 L1558.64 270.62 L1559.96 271.09 L1561.27 271.55 L1562.59 272 L1563.91 272.44 L1565.22 272.87 L1566.54 273.3 L1567.86 273.72 L1569.17 274.13 L1570.49 274.54 L1571.81 274.94 L1573.12 275.35 L1574.44 275.74 L1575.76 276.14 L1577.07 276.53 L1578.39 276.93 L1579.71 277.32 L1581.02 277.71 L1582.34 278.11 L1583.66 278.51 L1584.97 278.91 L1586.29 279.31 L1587.61 279.72 L1588.92 280.13 L1590.24 280.55 L1591.56 280.97 L1592.87 281.4 L1594.19 281.84 L1595.51 282.29 L1596.82 282.75 L1598.14 283.21 L1599.46 283.69 L1600.77 284.18 L1602.09 284.67 L1603.41 285.18 L1604.72 285.7 L1606.04 286.23 L1607.36 286.76 L1608.67 287.31 L1609.99 287.87 L1611.31 288.44 L1612.62 289.01 L1613.94 289.6 L1615.26 290.19 L1616.57 290.8 L1617.89 291.41 L1619.21 292.03 L1620.52 292.66 L1621.84 293.3 L1623.16 293.95 L1624.47 294.6 L1625.79 295.27 L1627.11 295.94 L1628.42 296.62 L1629.74 297.31 L1631.06 298.01 L1632.37 298.71 L1633.69 299.43 L1635.01 300.15 L1636.33 300.87 L1637.64 301.61 L1638.96 302.35 L1640.28 303.1 L1641.59 303.86 L1642.91 304.62 L1644.23 305.39 L1645.54 306.16 L1646.86 306.95 L1648.18 307.74 L1649.49 308.53 L1650.81 309.34 L1652.13 310.14 L1653.44 310.96 L1654.76 311.78 L1656.08 312.6 L1657.39 313.44 L1658.71 314.27 L1660.03 315.12 L1661.34 315.96 L1662.66 316.82 L1663.98 317.68 L1665.29 318.54 L1666.61 319.41 L1667.93 320.28 L1669.24 321.16 L1670.56 322.04 L1671.88 322.94 L1673.19 323.84 L1674.51 324.74 L1675.83 325.66 L1677.14 326.58 L1678.46 327.52 L1679.78 328.46 L1681.09 329.42 L1682.41 330.39 L1683.73 331.37 L1685.04 332.36 L1686.36 333.37 L1687.68 334.39 L1688.99 335.42 L1690.31 336.47 L1691.63 337.54 L1692.94 338.62 L1694.26 339.72 L1695.58 340.84 L1696.89 341.98 L1698.21 343.13 L1699.53 344.31 L1700.84 345.5 L1702.16 346.72 L1703.48 347.96 L1704.79 349.22 L1706.11 350.5 L1707.43 351.79 L1708.74 353.11 L1710.06 354.44 L1711.38 355.78 L1712.69 357.14 L1714.01 358.52 L1715.33 359.9 L1716.65 361.29 L1717.96 362.7 L1719.28 364.11 L1720.6 365.53 L1721.91 366.95 L1723.23 368.38 L1724.55 369.81 L1725.86 371.25 L1727.18 372.68 L1728.5 374.12 L1729.81 375.55 L1731.13 376.99 L1732.45 378.42 L1733.76 379.85 L1735.08 381.28 L1736.4 382.73 L1737.71 384.19 L1739.03 385.66 L1740.35 387.15 L1741.66 388.67 L1742.98 390.21 L1744.3 391.78 L1745.61 393.39 L1746.93 395.03 L1748.25 396.72 L1749.56 398.44 L1750.88 400.22 L1752.2 402.04 L1753.51 403.92 L1754.83 405.86 L1756.15 407.86 L1757.46 409.92 L1758.78 412.03 L1760.1 414.21 L1761.41 416.44 L1762.73 418.72 L1764.05 421.06 L1765.36 423.45 L1766.68 425.89 L1768 428.38 L1769.31 430.92 L1770.63 433.51 L1771.95 436.14 L1773.26 438.82 L1774.58 441.54 L1775.9 444.31 L1777.21 447.12 L1778.53 449.97 L1779.85 452.86 L1781.16 455.79 L1782.48 458.75 L1783.8 461.75 L1785.11 464.79 L1786.43 467.86 L1787.75 470.97 L1789.06 474.1 L1790.38 477.27 L1791.7 480.46 L1793.02 483.68 L1794.33 486.93 L1795.65 490.21 L1796.97 493.51 L1798.28 496.83 L1799.6 500.18 L1800.92 503.55 L1802.23 506.93 L1803.55 510.34 L1804.87 513.77 L1806.18 517.21 L1807.5 520.66 L1808.82 524.11 L1810.13 527.52 L1811.45 530.88 L1812.77 534.15 L1814.08 537.3 L1815.4 540.32 L1816.72 543.16 L1818.03 545.81 L1819.35 548.23 L1820.67 550.41 L1821.98 552.31 L1823.3 553.9 L1824.62 555.16 L1825.93 556.06 L1827.25 556.57 L1828.57 556.68 L1829.88 556.34 L1831.2 555.53" fill="none" stroke="#000" stroke-width="4.4" stroke-linejoin="round" stroke-dasharray="16.28 7.04" stroke-dashoffset="-12"/>
<circle cx="1446.2" cy="119.14" r="7.5" fill="#000"/>
<circle cx="1557.2" cy="270.1" r="7.5" fill="#000"/>
<circle cx="1621.6" cy="293.18" r="7.5" fill="#000"/>
<circle cx="1666.6" cy="319.4" r="7.5" fill="#000"/>
<circle cx="1702.6" cy="347.13" r="7.5" fill="#000"/>
<circle cx="1730.5" cy="376.3" r="7.5" fill="#000"/>
<circle cx="1753.8" cy="404.34" r="7.5" fill="#000"/>
<circle cx="1773.8" cy="439.92" r="7.5" fill="#000"/>
<circle cx="1791.2" cy="479.25" r="7.5" fill="#000"/>
<circle cx="1806.5" cy="518.04" r="7.5" fill="#000"/>
<circle cx="1819" cy="547.61" r="7.5" fill="#000"/>
<circle cx="1831.2" cy="555.53" r="7.5" fill="#000"/>
<path d="M1492.72 219.2 L1493.83 221.13 L1494.94 223.02 L1496.05 224.89 L1497.17 226.73 L1498.28 228.54 L1499.39 230.31 L1500.5 232.04 L1501.61 233.74 L1502.72 235.39 L1503.84 237.01 L1504.95 238.6 L1506.06 240.2 L1507.17 241.78 L1508.28 243.35 L1509.39 244.89 L1510.5 246.4 L1511.62 247.86 L1512.73 249.26 L1513.84 250.61 L1514.95 251.88 L1516.06 253.07 L1517.17 254.17 L1518.29 255.22 L1519.4 256.26 L1520.51 257.27 L1521.62 258.25 L1522.73 259.21 L1523.84 260.13 L1524.96 261.01 L1526.07 261.84 L1527.18 262.62 L1528.29 263.35 L1529.4 264.02 L1530.51 264.62 L1531.62 265.15 L1532.74 265.61 L1533.85 266.01 L1534.96 266.35 L1536.07 266.65 L1537.18 266.92 L1538.29 267.18 L1539.41 267.43 L1540.52 267.68 L1541.63 267.96 L1542.74 268.27 L1543.85 268.62 L1544.96 269.02 L1546.08 269.52 L1547.19 270.19 L1548.3 271 L1549.41 271.89 L1550.52 272.81 L1551.63 273.72 L1552.74 274.57 L1553.86 275.3 L1554.97 275.87 L1556.08 276.33 L1557.19 276.71 L1558.3 277.05 L1559.41 277.35 L1560.53 277.64 L1561.64 277.94 L1562.75 278.25 L1563.86 278.61 L1564.97 279.01 L1566.08 279.49 L1567.2 280.17 L1568.31 281.09 L1569.42 282.18 L1570.53 283.35 L1571.64 284.49 L1572.75 285.54 L1573.86 286.38 L1574.98 286.94 L1576.09 287.17 L1577.2 287.32 L1578.31 287.46 L1579.42 287.59 L1580.53 287.7 L1581.65 287.79 L1582.76 287.87 L1583.87 287.93 L1584.98 287.97 L1586.09 287.99 L1587.2 288 L1588.32 288 L1589.43 288 L1590.54 288 L1591.65 288 L1592.76 288 L1593.87 288 L1594.99 288 L1596.1 288 L1597.21 288 L1598.32 288 L1599.43 288.1 L1600.54 288.36 L1601.65 288.73 L1602.77 289.18 L1603.88 289.7 L1604.99 290.24 L1606.1 290.82 L1607.21 291.65 L1608.32 292.7 L1609.44 293.91 L1610.55 295.22 L1611.66 296.55 L1612.77 297.84 L1613.88 299.02 L1614.99 300.03 L1616.11 300.8 L1617.22 301.27 L1618.33 301.56 L1619.44 301.79 L1620.55 301.96 L1621.66 302.11 L1622.77 302.27 L1623.89 302.44 L1625 302.67 L1626.11 302.97 L1627.22 303.44 L1628.33 304.28 L1629.44 305.43 L1630.56 306.82 L1631.67 308.38 L1632.78 310.02 L1633.89 311.66 L1635 313.23 L1636.11 314.66 L1637.23 316.1 L1638.34 317.61 L1639.45 319.12 L1640.56 320.6 L1641.67 321.98 L1642.78 323.2 L1643.89 324.23 L1645.01 325.06 L1646.12 325.77 L1647.23 326.43 L1648.34 327.12 L1649.45 327.93 L1650.56 328.93 L1651.68 330.38 L1652.79 332.34 L1653.9 334.51 L1655.01 336.59 L1656.12 338.29 L1657.23 339.54 L1658.35 340.69 L1659.46 341.71 L1660.57 342.59 L1661.68 343.32 L1662.79 343.9 L1663.9 344.39 L1665.01 344.81 L1666.13 345.19 L1667.24 345.55 L1668.35 345.91 L1669.46 346.3 L1670.57 346.72 L1671.68 347.11 L1672.8 347.5 L1673.91 347.88 L1675.02 348.27 L1676.13 348.69 L1677.24 349.16 L1678.35 349.68 L1679.47 350.28 L1680.58 351.16 L1681.69 352.37 L1682.8 353.78 L1683.91 355.31 L1685.02 356.85 L1686.13 358.28 L1687.25 359.51 L1688.36 360.43 L1689.47 360.94 L1690.58 360.99 L1691.69 360.91 L1692.8 360.77 L1693.92 360.59 L1695.03 360.38 L1696.14 360.18 L1697.25 359.99 L1698.36 359.83 L1699.47 359.73 L1700.59 359.71 L1701.7 360.16 L1702.81 361.17 L1703.92 362.58 L1705.03 364.26 L1706.14 366.03 L1707.25 367.76 L1708.37 369.28 L1709.48 370.48 L1710.59 371.5 L1711.7 372.44 L1712.81 373.34 L1713.92 374.25 L1715.04 375.22 L1716.15 376.29 L1717.26 377.5 L1718.37 378.94 L1719.48 380.58 L1720.59 382.35 L1721.71 384.2 L1722.82 386.07 L1723.93 387.89 L1725.04 389.9 L1726.15 392.21 L1727.26 394.43 L1728.38 396.15 L1729.49 397 L1730.6 397.15 L1731.71 397.51 L1732.82 398.25 L1733.93 399.21 L1735.04 400.22 L1736.16 401.11 L1737.27 401.89 L1738.38 402.64 L1739.49 403.39 L1740.6 404.17 L1741.71 405.02 L1742.83 405.95 L1743.94 407 L1745.05 408.14 L1746.16 409.36 L1747.27 410.66 L1748.38 412.01 L1749.5 413.4 L1750.61 414.82 L1751.72 416.25 L1752.83 417.69 L1753.94 419.15 L1755.05 420.66 L1756.16 422.21 L1757.28 423.8 L1758.39 425.42 L1759.5 427.06 L1760.61 428.71 L1761.72 430.37 L1762.83 432.03 L1763.95 433.69 L1765.06 435.36 L1766.17 437.05 L1767.28 438.77 L1768.39 440.54 L1769.5 442.37 L1770.62 444.25 L1771.73 446.21 L1772.84 448.23 L1773.95 450.31 L1775.06 452.44 L1776.17 454.6 L1777.28 456.8 L1778.4 459.02 L1779.51 461.28 L1780.62 463.6 L1781.73 465.95 L1782.84 468.35 L1783.95 470.78 L1785.07 473.24 L1786.18 475.76 L1787.29 478.32 L1788.4 480.92 L1789.51 483.55 L1790.62 486.19 L1791.74 488.85 L1792.85 491.53 L1793.96 494.24 L1795.07 496.99 L1796.18 499.77 L1797.29 502.63 L1798.4 505.58 L1799.52 508.57 L1800.63 511.51 L1801.74 514.35 L1802.85 517.07 L1803.96 519.73 L1805.07 522.32 L1806.19 524.83 L1807.3 527.23 L1808.41 529.54 L1809.52 531.76 L1810.63 533.92 L1811.74 536.03 L1812.86 538.11 L1813.97 540.15 L1815.08 542.1 L1816.19 543.92 L1817.3 545.62 L1818.41 547.21 L1819.52 548.72 L1820.64 550.16 L1821.75 551.54 L1822.86 552.86 L1823.97 554.11 L1825.08 555.3" fill="none" stroke="#1f77b4" stroke-width="4.4" stroke-linejoin="round" stroke-linecap="square"/>
<circle cx="1492.72" cy="219.2" r="7.5" fill="#1f77b4"/>
<circle cx="1605.53" cy="290.5" r="7.5" fill="#1f77b4"/>
<circle cx="1650.63" cy="329" r="7.5" fill="#1f77b4"/>
<circle cx="1679.32" cy="350.2" r="7.5" fill="#1f77b4"/>
<circle cx="1700.41" cy="359.7" r="7.5" fill="#1f77b4"/>
<circle cx="1717.09" cy="377.3" r="7.5" fill="#1f77b4"/>
<circle cx="1730.88" cy="397.2" r="7.5" fill="#1f77b4"/>
<circle cx="1742.65" cy="405.8" r="7.5" fill="#1f77b4"/>
<circle cx="1752.91" cy="417.8" r="7.5" fill="#1f77b4"/>
<circle cx="1762.01" cy="430.8" r="7.5" fill="#1f77b4"/>
<circle cx="1770.18" cy="443.5" r="7.5" fill="#1f77b4"/>
<circle cx="1777.59" cy="457.4" r="7.5" fill="#1f77b4"/>
<circle cx="1784.37" cy="471.7" r="7.5" fill="#1f77b4"/>
<circle cx="1790.63" cy="486.2" r="7.5" fill="#1f77b4"/>
<circle cx="1796.43" cy="500.4" r="7.5" fill="#1f77b4"/>
<circle cx="1801.84" cy="514.6" r="7.5" fill="#1f77b4"/>
<circle cx="1806.91" cy="526.4" r="7.5" fill="#1f77b4"/>
<circle cx="1811.68" cy="535.9" r="7.5" fill="#1f77b4"/>
<circle cx="1816.17" cy="543.9" r="7.5" fill="#1f77b4"/>
<circle cx="1820.43" cy="549.9" r="7.5" fill="#1f77b4"/>
<path d="M1492.72 231 L1493.83 231.67 L1494.94 232.34 L1496.05 233.02 L1497.17 233.7 L1498.28 234.39 L1499.39 235.07 L1500.5 235.77 L1501.61 236.46 L1502.72 237.16 L1503.84 237.86 L1504.95 238.57 L1506.06 239.28 L1507.17 239.99 L1508.28 240.71 L1509.39 241.43 L1510.5 242.15 L1511.62 242.88 L1512.73 243.61 L1513.84 244.34 L1514.95 245.07 L1516.06 245.81 L1517.17 246.55 L1518.29 247.3 L1519.4 248.05 L1520.51 248.81 L1521.62 249.57 L1522.73 250.34 L1523.84 251.12 L1524.96 251.9 L1526.07 252.68 L1527.18 253.47 L1528.29 254.25 L1529.4 255.04 L1530.51 255.83 L1531.62 256.61 L1532.74 257.4 L1533.85 258.19 L1534.96 258.97 L1536.07 259.75 L1537.18 260.54 L1538.29 261.34 L1539.41 262.15 L1540.52 262.96 L1541.63 263.78 L1542.74 264.61 L1543.85 265.43 L1544.96 266.25 L1546.08 267.06 L1547.19 267.86 L1548.3 268.66 L1549.41 269.43 L1550.52 270.19 L1551.63 270.93 L1552.74 271.65 L1553.86 272.34 L1554.97 273 L1556.08 273.64 L1557.19 274.27 L1558.3 274.88 L1559.41 275.49 L1560.53 276.08 L1561.64 276.66 L1562.75 277.23 L1563.86 277.79 L1564.97 278.34 L1566.08 278.88 L1567.2 279.41 L1568.31 279.94 L1569.42 280.46 L1570.53 280.97 L1571.64 281.48 L1572.75 281.98 L1573.86 282.47 L1574.98 282.96 L1576.09 283.43 L1577.2 283.89 L1578.31 284.34 L1579.42 284.79 L1580.53 285.22 L1581.65 285.65 L1582.76 286.08 L1583.87 286.51 L1584.98 286.93 L1586.09 287.36 L1587.2 287.78 L1588.32 288.21 L1589.43 288.65 L1590.54 289.1 L1591.65 289.55 L1592.76 290.01 L1593.87 290.47 L1594.99 290.93 L1596.1 291.39 L1597.21 291.85 L1598.32 292.31 L1599.43 292.78 L1600.54 293.26 L1601.65 293.75 L1602.77 294.26 L1603.88 294.78 L1604.99 295.33 L1606.1 295.89 L1607.21 296.49 L1608.32 297.11 L1609.44 297.75 L1610.55 298.41 L1611.66 299.09 L1612.77 299.78 L1613.88 300.49 L1614.99 301.2 L1616.11 301.93 L1617.22 302.65 L1618.33 303.38 L1619.44 304.11 L1620.55 304.84 L1621.66 305.56 L1622.77 306.28 L1623.89 307 L1625 307.72 L1626.11 308.45 L1627.22 309.18 L1628.33 309.93 L1629.44 310.68 L1630.56 311.45 L1631.67 312.23 L1632.78 313.03 L1633.89 313.86 L1635 314.7 L1636.11 315.57 L1637.23 316.48 L1638.34 317.43 L1639.45 318.42 L1640.56 319.44 L1641.67 320.48 L1642.78 321.54 L1643.89 322.62 L1645.01 323.69 L1646.12 324.77 L1647.23 325.84 L1648.34 326.89 L1649.45 327.93 L1650.56 328.94 L1651.68 329.93 L1652.79 330.92 L1653.9 331.92 L1655.01 332.91 L1656.12 333.9 L1657.23 334.89 L1658.35 335.88 L1659.46 336.86 L1660.57 337.84 L1661.68 338.82 L1662.79 339.8 L1663.9 340.77 L1665.01 341.74 L1666.13 342.7 L1667.24 343.66 L1668.35 344.61 L1669.46 345.55 L1670.57 346.49 L1671.68 347.42 L1672.8 348.35 L1673.91 349.26 L1675.02 350.17 L1676.13 351.07 L1677.24 351.96 L1678.35 352.84 L1679.47 353.71 L1680.58 354.57 L1681.69 355.42 L1682.8 356.25 L1683.91 357.07 L1685.02 357.89 L1686.13 358.69 L1687.25 359.49 L1688.36 360.28 L1689.47 361.07 L1690.58 361.85 L1691.69 362.64 L1692.8 363.42 L1693.92 364.19 L1695.03 364.98 L1696.14 365.76 L1697.25 366.54 L1698.36 367.33 L1699.47 368.13 L1700.59 368.93 L1701.7 369.72 L1702.81 370.5 L1703.92 371.27 L1705.03 372.04 L1706.14 372.8 L1707.25 373.56 L1708.37 374.33 L1709.48 375.11 L1710.59 375.89 L1711.7 376.7 L1712.81 377.52 L1713.92 378.36 L1715.04 379.22 L1716.15 380.12 L1717.26 381.05 L1718.37 382.02 L1719.48 383.04 L1720.59 384.09 L1721.71 385.18 L1722.82 386.3 L1723.93 387.44 L1725.04 388.59 L1726.15 389.76 L1727.26 390.93 L1728.38 392.09 L1729.49 393.26 L1730.6 394.41 L1731.71 395.54 L1732.82 396.67 L1733.93 397.8 L1735.04 398.93 L1736.16 400.07 L1737.27 401.22 L1738.38 402.38 L1739.49 403.55 L1740.6 404.74 L1741.71 405.95 L1742.83 407.19 L1743.94 408.45 L1745.05 409.73 L1746.16 411.03 L1747.27 412.34 L1748.38 413.68 L1749.5 415.05 L1750.61 416.43 L1751.72 417.85 L1752.83 419.29 L1753.94 420.77 L1755.05 422.29 L1756.16 423.84 L1757.28 425.43 L1758.39 427.04 L1759.5 428.67 L1760.61 430.32 L1761.72 431.97 L1762.83 433.63 L1763.95 435.29 L1765.06 436.96 L1766.17 438.65 L1767.28 440.37 L1768.39 442.14 L1769.5 443.97 L1770.62 445.85 L1771.73 447.81 L1772.84 449.83 L1773.95 451.91 L1775.06 454.04 L1776.17 456.2 L1777.28 458.4 L1778.4 460.62 L1779.51 462.88 L1780.62 465.2 L1781.73 467.55 L1782.84 469.95 L1783.95 472.38 L1785.07 474.84 L1786.18 477.36 L1787.29 479.92 L1788.4 482.52 L1789.51 485.15 L1790.62 487.79 L1791.74 490.45 L1792.85 493.13 L1793.96 495.84 L1795.07 498.59 L1796.18 501.37 L1797.29 504.23 L1798.4 507.18 L1799.52 510.17 L1800.63 513.11 L1801.74 515.95 L1802.85 518.67 L1803.96 521.33 L1805.07 523.92 L1806.19 526.43 L1807.3 528.83 L1808.41 531.14 L1809.52 533.36 L1810.63 535.52 L1811.74 537.63 L1812.86 539.71 L1813.97 541.75 L1815.08 543.7 L1816.19 545.52 L1817.3 547.27 L1818.41 548.94 L1819.52 550.45 L1820.64 551.71 L1821.75 552.81 L1822.86 553.79 L1823.97 554.63 L1825.08 555.3" fill="none" stroke="#d62728" stroke-width="4.4" stroke-linejoin="round" stroke-dasharray="28.16 7.04 4.4 7.04"/>
<circle cx="1492.72" cy="231" r="7.5" fill="#d62728"/>
<circle cx="1605.53" cy="295.6" r="7.5" fill="#d62728"/>
<circle cx="1650.63" cy="329" r="7.5" fill="#d62728"/>
<circle cx="1679.32" cy="353.6" r="7.5" fill="#d62728"/>
<circle cx="1700.41" cy="368.8" r="7.5" fill="#d62728"/>
<circle cx="1717.09" cy="380.9" r="7.5" fill="#d62728"/>
<circle cx="1730.88" cy="394.7" r="7.5" fill="#d62728"/>
<circle cx="1742.65" cy="407" r="7.5" fill="#d62728"/>
<circle cx="1752.91" cy="419.4" r="7.5" fill="#d62728"/>
<circle cx="1762.01" cy="432.4" r="7.5" fill="#d62728"/>
<circle cx="1770.18" cy="445.1" r="7.5" fill="#d62728"/>
<circle cx="1777.59" cy="459" r="7.5" fill="#d62728"/>
<circle cx="1784.37" cy="473.3" r="7.5" fill="#d62728"/>
<circle cx="1790.63" cy="487.8" r="7.5" fill="#d62728"/>
<circle cx="1796.43" cy="502" r="7.5" fill="#d62728"/>
<circle cx="1801.84" cy="516.2" r="7.5" fill="#d62728"/>
<circle cx="1806.91" cy="528" r="7.5" fill="#d62728"/>
<circle cx="1811.68" cy="537.5" r="7.5" fill="#d62728"/>
<circle cx="1816.17" cy="545.5" r="7.5" fill="#d62728"/>
<circle cx="1820.43" cy="551.5" r="7.5" fill="#d62728"/>
<path d="M1358 574.75 L1359.58 575.49 L1361.17 576.23 L1362.75 576.95 L1364.33 577.67 L1365.91 578.37 L1367.5 579.07 L1369.08 579.76 L1370.66 580.44 L1372.24 581.12 L1373.83 581.78 L1375.41 582.44 L1376.99 583.09 L1378.57 583.73 L1380.16 584.36 L1381.74 584.99 L1383.32 585.6 L1384.9 586.21 L1386.49 586.81 L1388.07 587.4 L1389.65 587.99 L1391.23 588.56 L1392.82 589.13 L1394.4 589.69 L1395.98 590.24 L1397.57 590.78 L1399.15 591.32 L1400.73 591.84 L1402.31 592.36 L1403.9 592.87 L1405.48 593.37 L1407.06 593.87 L1408.64 594.35 L1410.23 594.83 L1411.81 595.3 L1413.39 595.77 L1414.97 596.22 L1416.56 596.67 L1418.14 597.1 L1419.72 597.54 L1421.3 597.96 L1422.89 598.37 L1424.47 598.78 L1426.05 599.18 L1427.63 599.57 L1429.22 599.95 L1430.8 600.33 L1432.38 600.7 L1433.97 601.06 L1435.55 601.41 L1437.13 601.75 L1438.71 602.09 L1440.3 602.42 L1441.88 602.74 L1443.46 603.05 L1445.04 603.36 L1446.63 603.66 L1448.21 603.95 L1449.79 604.23 L1451.37 604.5 L1452.96 604.77 L1454.54 605.03 L1456.12 605.28 L1457.7 605.53 L1459.29 605.77 L1460.87 606 L1462.45 606.23 L1464.03 606.45 L1465.62 606.66 L1467.2 606.86 L1468.78 607.06 L1470.37 607.25 L1471.95 607.44 L1473.53 607.62 L1475.11 607.8 L1476.7 607.96 L1478.28 608.13 L1479.86 608.28 L1481.44 608.43 L1483.03 608.58 L1484.61 608.72 L1486.19 608.85 L1487.77 608.98 L1489.36 609.11 L1490.94 609.22 L1492.52 609.34 L1494.1 609.45 L1495.69 609.55 L1497.27 609.65 L1498.85 609.74 L1500.43 609.83 L1502.02 609.92 L1503.6 610 L1505.18 610.08 L1506.77 610.15 L1508.35 610.22 L1509.93 610.28 L1511.51 610.34 L1513.1 610.4 L1514.68 610.45 L1516.26 610.5 L1517.84 610.55 L1519.43 610.59 L1521.01 610.63 L1522.59 610.67 L1524.17 610.7 L1525.76 610.73 L1527.34 610.76 L1528.92 610.79 L1530.5 610.81 L1532.09 610.83 L1533.67 610.84 L1535.25 610.86 L1536.83 610.87 L1538.42 610.88 L1540 610.88 L1541.58 610.89 L1543.17 610.89 L1544.75 610.89 L1546.33 610.89 L1547.91 610.89 L1549.5 610.89 L1551.08 610.88 L1552.66 610.88 L1554.24 610.87 L1555.83 610.86 L1557.41 610.85 L1558.99 610.84 L1560.57 610.83 L1562.16 610.81 L1563.74 610.8 L1565.32 610.78 L1566.9 610.77 L1568.49 610.75 L1570.07 610.74 L1571.65 610.72 L1573.23 610.71 L1574.82 610.69 L1576.4 610.67 L1577.98 610.66 L1579.57 610.64 L1581.15 610.63 L1582.73 610.61 L1584.31 610.6 L1585.9 610.58 L1587.48 610.57 L1589.06 610.56 L1590.64 610.54 L1592.23 610.53 L1593.81 610.52 L1595.39 610.51 L1596.97 610.51 L1598.56 610.5 L1600.14 610.5 L1601.72 610.49 L1603.3 610.49 L1604.89 610.49 L1606.47 610.49 L1608.05 610.49 L1609.63 610.5 L1611.22 610.5 L1612.8 610.5 L1614.38 610.51 L1615.97 610.51 L1617.55 610.52 L1619.13 610.52 L1620.71 610.52 L1622.3 610.53 L1623.88 610.53 L1625.46 610.53 L1627.04 610.54 L1628.63 610.54 L1630.21 610.54 L1631.79 610.54 L1633.37 610.53 L1634.96 610.53 L1636.54 610.53 L1638.12 610.52 L1639.7 610.51 L1641.29 610.5 L1642.87 610.49 L1644.45 610.47 L1646.03 610.45 L1647.62 610.43 L1649.2 610.41 L1650.78 610.38 L1652.37 610.35 L1653.95 610.32 L1655.53 610.29 L1657.11 610.25 L1658.7 610.2 L1660.28 610.16 L1661.86 610.11 L1663.44 610.05 L1665.03 609.99 L1666.61 609.93 L1668.19 609.86 L1669.77 609.79 L1671.36 609.72 L1672.94 609.64 L1674.52 609.55 L1676.1 609.46 L1677.69 609.36 L1679.27 609.26 L1680.85 609.15 L1682.43 609.04 L1684.02 608.92 L1685.6 608.79 L1687.18 608.66 L1688.77 608.53 L1690.35 608.38 L1691.93 608.23 L1693.51 608.07 L1695.1 607.91 L1696.68 607.74 L1698.26 607.56 L1699.84 607.38 L1701.43 607.18 L1703.01 606.98 L1704.59 606.78 L1706.17 606.56 L1707.76 606.34 L1709.34 606.1 L1710.92 605.86 L1712.5 605.62 L1714.09 605.36 L1715.67 605.09 L1717.25 604.82 L1718.83 604.53 L1720.42 604.24 L1722 603.94 L1723.58 603.63 L1725.17 603.31 L1726.75 602.98 L1728.33 602.64 L1729.91 602.29 L1731.5 601.93 L1733.08 601.56 L1734.66 601.17 L1736.24 600.78 L1737.83 600.38 L1739.41 599.97 L1740.99 599.54 L1742.57 599.11 L1744.16 598.66 L1745.74 598.21 L1747.32 597.74 L1748.9 597.26 L1750.49 596.76 L1752.07 596.26 L1753.65 595.74 L1755.23 595.21 L1756.82 594.67 L1758.4 594.11 L1759.98 593.54 L1761.57 592.95 L1763.15 592.34 L1764.73 591.7 L1766.31 591.05 L1767.9 590.37 L1769.48 589.67 L1771.06 588.95 L1772.64 588.19 L1774.23 587.41 L1775.81 586.6 L1777.39 585.75 L1778.97 584.88 L1780.56 583.97 L1782.14 583.02 L1783.72 582.04 L1785.3 581.02 L1786.89 579.96 L1788.47 578.86 L1790.05 577.71 L1791.63 576.53 L1793.22 575.3 L1794.8 574.05 L1796.38 572.79 L1797.97 571.52 L1799.55 570.25 L1801.13 568.99 L1802.71 567.76 L1804.3 566.57 L1805.88 565.42 L1807.46 564.32 L1809.04 563.28 L1810.63 562.3 L1812.21 561.38 L1813.79 560.53 L1815.37 559.73 L1816.96 559.01 L1818.54 558.35 L1820.12 557.77 L1821.7 557.26 L1823.29 556.82 L1824.87 556.47 L1826.45 556.19 L1828.03 555.99 L1829.62 555.88 L1831.2 555.86" fill="none" stroke="#000" stroke-width="4.4" stroke-linejoin="round" stroke-dasharray="16.28 7.04" stroke-dashoffset="-11.3"/>
<rect x="1438.6" y="595.98" width="15.2" height="15.2" fill="#000"/>
<rect x="1549.6" y="603.25" width="15.2" height="15.2" fill="#000"/>
<rect x="1614" y="602.93" width="15.2" height="15.2" fill="#000"/>
<rect x="1659" y="602.33" width="15.2" height="15.2" fill="#000"/>
<rect x="1695" y="599.44" width="15.2" height="15.2" fill="#000"/>
<rect x="1722.9" y="594.55" width="15.2" height="15.2" fill="#000"/>
<rect x="1746.2" y="588.09" width="15.2" height="15.2" fill="#000"/>
<rect x="1766.2" y="580.02" width="15.2" height="15.2" fill="#000"/>
<rect x="1783.6" y="569.26" width="15.2" height="15.2" fill="#000"/>
<rect x="1798.9" y="557.38" width="15.2" height="15.2" fill="#000"/>
<rect x="1811.4" y="550.58" width="15.2" height="15.2" fill="#000"/>
<rect x="1823.6" y="548.26" width="15.2" height="15.2" fill="#000"/>
<path d="M1492.72 612.6 L1493.83 612.6 L1494.94 612.6 L1496.05 612.6 L1497.17 612.6 L1498.28 612.6 L1499.39 612.6 L1500.5 612.6 L1501.61 612.6 L1502.72 612.6 L1503.84 612.6 L1504.95 612.6 L1506.06 612.6 L1507.17 612.6 L1508.28 612.6 L1509.39 612.6 L1510.5 612.6 L1511.62 612.6 L1512.73 612.62 L1513.84 612.65 L1514.95 612.7 L1516.06 612.75 L1517.17 612.82 L1518.29 612.89 L1519.4 612.97 L1520.51 613.05 L1521.62 613.13 L1522.73 613.21 L1523.84 613.29 L1524.96 613.36 L1526.07 613.43 L1527.18 613.49 L1528.29 613.53 L1529.4 613.57 L1530.51 613.59 L1531.62 613.6 L1532.74 613.59 L1533.85 613.56 L1534.96 613.51 L1536.07 613.45 L1537.18 613.37 L1538.29 613.28 L1539.41 613.18 L1540.52 613.06 L1541.63 612.94 L1542.74 612.8 L1543.85 612.66 L1544.96 612.51 L1546.08 612.36 L1547.19 612.2 L1548.3 612.04 L1549.41 611.88 L1550.52 611.72 L1551.63 611.55 L1552.74 611.38 L1553.86 611.18 L1554.97 610.95 L1556.08 610.7 L1557.19 610.42 L1558.3 610.13 L1559.41 609.84 L1560.53 609.54 L1561.64 609.24 L1562.75 608.94 L1563.86 608.66 L1564.97 608.4 L1566.08 608.15 L1567.2 607.94 L1568.31 607.73 L1569.42 607.52 L1570.53 607.3 L1571.64 607.09 L1572.75 606.89 L1573.86 606.71 L1574.98 606.57 L1576.09 606.46 L1577.2 606.41 L1578.31 606.4 L1579.42 606.41 L1580.53 606.43 L1581.65 606.45 L1582.76 606.48 L1583.87 606.51 L1584.98 606.54 L1586.09 606.58 L1587.2 606.62 L1588.32 606.66 L1589.43 606.7 L1590.54 606.74 L1591.65 606.78 L1592.76 606.81 L1593.87 606.84 L1594.99 606.87 L1596.1 606.89 L1597.21 606.9 L1598.32 606.9 L1599.43 606.88 L1600.54 606.85 L1601.65 606.81 L1602.77 606.76 L1603.88 606.73 L1604.99 606.7 L1606.1 606.7 L1607.21 606.71 L1608.32 606.74 L1609.44 606.77 L1610.55 606.8 L1611.66 606.83 L1612.77 606.86 L1613.88 606.88 L1614.99 606.9 L1616.11 606.85 L1617.22 606.45 L1618.33 605.8 L1619.44 605.11 L1620.55 604.54 L1621.66 604.3 L1622.77 604.45 L1623.89 604.86 L1625 605.41 L1626.11 606 L1627.22 606.51 L1628.33 606.84 L1629.44 606.92 L1630.56 606.95 L1631.67 606.98 L1632.78 607.01 L1633.89 607.03 L1635 607.06 L1636.11 607.08 L1637.23 607.1 L1638.34 607.12 L1639.45 607.13 L1640.56 607.15 L1641.67 607.16 L1642.78 607.17 L1643.89 607.18 L1645.01 607.18 L1646.12 607.19 L1647.23 607.19 L1648.34 607.2 L1649.45 607.2 L1650.56 607.2 L1651.68 607.19 L1652.79 607.14 L1653.9 607.07 L1655.01 606.97 L1656.12 606.85 L1657.23 606.7 L1658.35 606.54 L1659.46 606.36 L1660.57 606.16 L1661.68 605.95 L1662.79 605.73 L1663.9 605.5 L1665.01 605.27 L1666.13 605.03 L1667.24 604.79 L1668.35 604.55 L1669.46 604.32 L1670.57 604.09 L1671.68 603.86 L1672.8 603.65 L1673.91 603.45 L1675.02 603.26 L1676.13 603.09 L1677.24 602.93 L1678.35 602.8 L1679.47 602.69 L1680.58 602.59 L1681.69 602.5 L1682.8 602.42 L1683.91 602.34 L1685.02 602.27 L1686.13 602.21 L1687.25 602.14 L1688.36 602.08 L1689.47 602.02 L1690.58 601.96 L1691.69 601.9 L1692.8 601.84 L1693.92 601.77 L1695.03 601.7 L1696.14 601.63 L1697.25 601.56 L1698.36 601.47 L1699.47 601.38 L1700.59 601.28 L1701.7 601.18 L1702.81 601.07 L1703.92 600.95 L1705.03 600.82 L1706.14 600.69 L1707.25 600.55 L1708.37 600.4 L1709.48 600.25 L1710.59 600.08 L1711.7 599.92 L1712.81 599.74 L1713.92 599.56 L1715.04 599.37 L1716.15 599.17 L1717.26 598.97 L1718.37 598.73 L1719.48 598.46 L1720.59 598.15 L1721.71 597.82 L1722.82 597.48 L1723.93 597.12 L1725.04 596.77 L1726.15 596.42 L1727.26 596.09 L1728.38 595.78 L1729.49 595.5 L1730.6 595.26 L1731.71 595.05 L1732.82 594.87 L1733.93 594.71 L1735.04 594.56 L1736.16 594.43 L1737.27 594.29 L1738.38 594.15 L1739.49 594 L1740.6 593.84 L1741.71 593.67 L1742.83 593.47 L1743.94 593.24 L1745.05 592.98 L1746.16 592.7 L1747.27 592.41 L1748.38 592.1 L1749.5 591.78 L1750.61 591.46 L1751.72 591.14 L1752.83 590.82 L1753.94 590.52 L1755.05 590.23 L1756.16 589.93 L1757.28 589.63 L1758.39 589.32 L1759.5 588.99 L1760.61 588.62 L1761.72 588.21 L1762.83 587.73 L1763.95 587.11 L1765.06 586.4 L1766.17 585.64 L1767.28 584.89 L1768.39 584.19 L1769.5 583.59 L1770.62 583.14 L1771.73 582.78 L1772.84 582.47 L1773.95 582.2 L1775.06 581.92 L1776.17 581.6 L1777.28 581.22 L1778.4 580.74 L1779.51 580.15 L1780.62 579.46 L1781.73 578.71 L1782.84 577.92 L1783.95 577.11 L1785.07 576.26 L1786.18 575.29 L1787.29 574.25 L1788.4 573.21 L1789.51 572.24 L1790.62 571.4 L1791.74 570.71 L1792.85 570.11 L1793.96 569.54 L1795.07 568.97 L1796.18 568.35 L1797.29 567.65 L1798.4 566.88 L1799.52 566.09 L1800.63 565.31 L1801.74 564.56 L1802.85 563.88 L1803.96 563.24 L1805.07 562.61 L1806.19 561.95 L1807.3 561.24 L1808.41 560.41 L1809.52 559.54 L1810.63 558.73 L1811.74 558.07 L1812.86 557.55 L1813.97 557.1 L1815.08 556.69 L1816.19 556.29 L1817.3 555.84 L1818.41 555.36 L1819.52 555.01 L1820.64 554.9 L1821.75 554.97 L1822.86 555.16 L1823.97 555.5 L1825.08 556" fill="none" stroke="#1f77b4" stroke-width="4.4" stroke-linejoin="round" stroke-linecap="square"/>
<rect x="1485.12" y="605" width="15.2" height="15.2" fill="#1f77b4"/>
<rect x="1597.93" y="599.1" width="15.2" height="15.2" fill="#1f77b4"/>
<rect x="1643.03" y="599.6" width="15.2" height="15.2" fill="#1f77b4"/>
<rect x="1671.72" y="595.1" width="15.2" height="15.2" fill="#1f77b4"/>
<rect x="1692.81" y="593.7" width="15.2" height="15.2" fill="#1f77b4"/>
<rect x="1709.49" y="591.4" width="15.2" height="15.2" fill="#1f77b4"/>
<rect x="1723.28" y="587.6" width="15.2" height="15.2" fill="#1f77b4"/>
<rect x="1735.05" y="585.9" width="15.2" height="15.2" fill="#1f77b4"/>
<rect x="1745.31" y="583.2" width="15.2" height="15.2" fill="#1f77b4"/>
<rect x="1754.41" y="580.5" width="15.2" height="15.2" fill="#1f77b4"/>
<rect x="1762.58" y="575.7" width="15.2" height="15.2" fill="#1f77b4"/>
<rect x="1769.99" y="573.5" width="15.2" height="15.2" fill="#1f77b4"/>
<rect x="1776.77" y="569.2" width="15.2" height="15.2" fill="#1f77b4"/>
<rect x="1783.03" y="563.8" width="15.2" height="15.2" fill="#1f77b4"/>
<rect x="1788.83" y="560.6" width="15.2" height="15.2" fill="#1f77b4"/>
<rect x="1794.24" y="556.9" width="15.2" height="15.2" fill="#1f77b4"/>
<rect x="1799.31" y="553.9" width="15.2" height="15.2" fill="#1f77b4"/>
<rect x="1804.08" y="550.5" width="15.2" height="15.2" fill="#1f77b4"/>
<rect x="1808.57" y="548.7" width="15.2" height="15.2" fill="#1f77b4"/>
<rect x="1812.83" y="547.3" width="15.2" height="15.2" fill="#1f77b4"/>
<path d="M1492.72 607.6 L1493.83 607.64 L1494.94 607.69 L1496.05 607.73 L1497.17 607.77 L1498.28 607.81 L1499.39 607.86 L1500.5 607.9 L1501.61 607.94 L1502.72 607.99 L1503.84 608.03 L1504.95 608.07 L1506.06 608.11 L1507.17 608.16 L1508.28 608.2 L1509.39 608.24 L1510.5 608.29 L1511.62 608.33 L1512.73 608.37 L1513.84 608.42 L1514.95 608.46 L1516.06 608.5 L1517.17 608.54 L1518.29 608.59 L1519.4 608.63 L1520.51 608.67 L1521.62 608.72 L1522.73 608.76 L1523.84 608.8 L1524.96 608.85 L1526.07 608.89 L1527.18 608.93 L1528.29 608.98 L1529.4 609.02 L1530.51 609.06 L1531.62 609.1 L1532.74 609.15 L1533.85 609.19 L1534.96 609.23 L1536.07 609.28 L1537.18 609.32 L1538.29 609.36 L1539.41 609.41 L1540.52 609.45 L1541.63 609.49 L1542.74 609.54 L1543.85 609.59 L1544.96 609.64 L1546.08 609.69 L1547.19 609.74 L1548.3 609.8 L1549.41 609.86 L1550.52 609.92 L1551.63 609.97 L1552.74 610.03 L1553.86 610.09 L1554.97 610.14 L1556.08 610.19 L1557.19 610.24 L1558.3 610.29 L1559.41 610.34 L1560.53 610.37 L1561.64 610.41 L1562.75 610.44 L1563.86 610.46 L1564.97 610.48 L1566.08 610.49 L1567.2 610.5 L1568.31 610.5 L1569.42 610.5 L1570.53 610.5 L1571.64 610.5 L1572.75 610.5 L1573.86 610.5 L1574.98 610.5 L1576.09 610.5 L1577.2 610.49 L1578.31 610.49 L1579.42 610.49 L1580.53 610.49 L1581.65 610.49 L1582.76 610.49 L1583.87 610.48 L1584.98 610.48 L1586.09 610.48 L1587.2 610.48 L1588.32 610.47 L1589.43 610.47 L1590.54 610.47 L1591.65 610.46 L1592.76 610.46 L1593.87 610.45 L1594.99 610.45 L1596.1 610.45 L1597.21 610.44 L1598.32 610.44 L1599.43 610.43 L1600.54 610.43 L1601.65 610.42 L1602.77 610.42 L1603.88 610.41 L1604.99 610.4 L1606.1 610.39 L1607.21 610.37 L1608.32 610.33 L1609.44 610.27 L1610.55 610.2 L1611.66 610.12 L1612.77 610.03 L1613.88 609.94 L1614.99 609.83 L1616.11 609.72 L1617.22 609.61 L1618.33 609.5 L1619.44 609.39 L1620.55 609.28 L1621.66 609.18 L1622.77 609.08 L1623.89 608.99 L1625 608.91 L1626.11 608.82 L1627.22 608.74 L1628.33 608.65 L1629.44 608.57 L1630.56 608.48 L1631.67 608.4 L1632.78 608.31 L1633.89 608.23 L1635 608.15 L1636.11 608.06 L1637.23 607.98 L1638.34 607.89 L1639.45 607.8 L1640.56 607.72 L1641.67 607.63 L1642.78 607.54 L1643.89 607.46 L1645.01 607.37 L1646.12 607.28 L1647.23 607.19 L1648.34 607.09 L1649.45 607 L1650.56 606.91 L1651.68 606.81 L1652.79 606.71 L1653.9 606.61 L1655.01 606.51 L1656.12 606.4 L1657.23 606.29 L1658.35 606.18 L1659.46 606.07 L1660.57 605.96 L1661.68 605.85 L1662.79 605.74 L1663.9 605.63 L1665.01 605.52 L1666.13 605.41 L1667.24 605.29 L1668.35 605.18 L1669.46 605.08 L1670.57 604.97 L1671.68 604.86 L1672.8 604.76 L1673.91 604.66 L1675.02 604.56 L1676.13 604.46 L1677.24 604.37 L1678.35 604.28 L1679.47 604.19 L1680.58 604.11 L1681.69 604.03 L1682.8 603.95 L1683.91 603.88 L1685.02 603.82 L1686.13 603.75 L1687.25 603.69 L1688.36 603.62 L1689.47 603.56 L1690.58 603.49 L1691.69 603.43 L1692.8 603.36 L1693.92 603.29 L1695.03 603.22 L1696.14 603.14 L1697.25 603.06 L1698.36 602.97 L1699.47 602.88 L1700.59 602.78 L1701.7 602.68 L1702.81 602.57 L1703.92 602.45 L1705.03 602.32 L1706.14 602.19 L1707.25 602.05 L1708.37 601.9 L1709.48 601.75 L1710.59 601.58 L1711.7 601.42 L1712.81 601.24 L1713.92 601.06 L1715.04 600.87 L1716.15 600.67 L1717.26 600.47 L1718.37 600.23 L1719.48 599.96 L1720.59 599.65 L1721.71 599.32 L1722.82 598.98 L1723.93 598.62 L1725.04 598.27 L1726.15 597.92 L1727.26 597.59 L1728.38 597.28 L1729.49 597 L1730.6 596.76 L1731.71 596.55 L1732.82 596.37 L1733.93 596.21 L1735.04 596.06 L1736.16 595.93 L1737.27 595.79 L1738.38 595.65 L1739.49 595.5 L1740.6 595.34 L1741.71 595.17 L1742.83 594.97 L1743.94 594.74 L1745.05 594.48 L1746.16 594.2 L1747.27 593.91 L1748.38 593.6 L1749.5 593.28 L1750.61 592.96 L1751.72 592.64 L1752.83 592.32 L1753.94 592.02 L1755.05 591.73 L1756.16 591.43 L1757.28 591.13 L1758.39 590.82 L1759.5 590.49 L1760.61 590.12 L1761.72 589.71 L1762.83 589.23 L1763.95 588.61 L1765.06 587.9 L1766.17 587.14 L1767.28 586.39 L1768.39 585.69 L1769.5 585.09 L1770.62 584.64 L1771.73 584.28 L1772.84 583.97 L1773.95 583.7 L1775.06 583.42 L1776.17 583.1 L1777.28 582.72 L1778.4 582.24 L1779.51 581.65 L1780.62 580.96 L1781.73 580.21 L1782.84 579.42 L1783.95 578.61 L1785.07 577.76 L1786.18 576.79 L1787.29 575.75 L1788.4 574.71 L1789.51 573.74 L1790.62 572.9 L1791.74 572.21 L1792.85 571.61 L1793.96 571.04 L1795.07 570.47 L1796.18 569.85 L1797.29 569.15 L1798.4 568.38 L1799.52 567.59 L1800.63 566.81 L1801.74 566.06 L1802.85 565.38 L1803.96 564.74 L1805.07 564.11 L1806.19 563.45 L1807.3 562.74 L1808.41 561.91 L1809.52 561.04 L1810.63 560.23 L1811.74 559.57 L1812.86 559.05 L1813.97 558.6 L1815.08 558.19 L1816.19 557.79 L1817.3 557.37 L1818.41 556.94 L1819.52 556.59 L1820.64 556.37 L1821.75 556.23 L1822.86 556.11 L1823.97 556.03 L1825.08 556" fill="none" stroke="#d62728" stroke-width="4.4" stroke-linejoin="round" stroke-dasharray="28.16 7.04 4.4 7.04"/>
<rect x="1485.12" y="600" width="15.2" height="15.2" fill="#d62728"/>
<rect x="1597.93" y="602.8" width="15.2" height="15.2" fill="#d62728"/>
<rect x="1643.03" y="599.3" width="15.2" height="15.2" fill="#d62728"/>
<rect x="1671.72" y="596.6" width="15.2" height="15.2" fill="#d62728"/>
<rect x="1692.81" y="595.2" width="15.2" height="15.2" fill="#d62728"/>
<rect x="1709.49" y="592.9" width="15.2" height="15.2" fill="#d62728"/>
<rect x="1723.28" y="589.1" width="15.2" height="15.2" fill="#d62728"/>
<rect x="1735.05" y="587.4" width="15.2" height="15.2" fill="#d62728"/>
<rect x="1745.31" y="584.7" width="15.2" height="15.2" fill="#d62728"/>
<rect x="1754.41" y="582" width="15.2" height="15.2" fill="#d62728"/>
<rect x="1762.58" y="577.2" width="15.2" height="15.2" fill="#d62728"/>
<rect x="1769.99" y="575" width="15.2" height="15.2" fill="#d62728"/>
<rect x="1776.77" y="570.7" width="15.2" height="15.2" fill="#d62728"/>
<rect x="1783.03" y="565.3" width="15.2" height="15.2" fill="#d62728"/>
<rect x="1788.83" y="562.1" width="15.2" height="15.2" fill="#d62728"/>
<rect x="1794.24" y="558.4" width="15.2" height="15.2" fill="#d62728"/>
<rect x="1799.31" y="555.4" width="15.2" height="15.2" fill="#d62728"/>
<rect x="1804.08" y="552" width="15.2" height="15.2" fill="#d62728"/>
<rect x="1808.57" y="550.2" width="15.2" height="15.2" fill="#d62728"/>
<rect x="1812.83" y="548.8" width="15.2" height="15.2" fill="#d62728"/>
<path d="M1358 550.51 L1359.58 550.17 L1361.17 549.82 L1362.75 549.46 L1364.33 549.1 L1365.91 548.72 L1367.5 548.34 L1369.08 547.95 L1370.66 547.54 L1372.24 547.14 L1373.83 546.72 L1375.41 546.29 L1376.99 545.86 L1378.57 545.41 L1380.16 544.96 L1381.74 544.5 L1383.32 544.03 L1384.9 543.56 L1386.49 543.07 L1388.07 542.58 L1389.65 542.08 L1391.23 541.57 L1392.82 541.05 L1394.4 540.53 L1395.98 540 L1397.57 539.46 L1399.15 538.91 L1400.73 538.35 L1402.31 537.79 L1403.9 537.22 L1405.48 536.64 L1407.06 536.06 L1408.64 535.46 L1410.23 534.86 L1411.81 534.25 L1413.39 533.64 L1414.97 533.01 L1416.56 532.38 L1418.14 531.74 L1419.72 531.09 L1421.3 530.43 L1422.89 529.76 L1424.47 529.09 L1426.05 528.4 L1427.63 527.7 L1429.22 527 L1430.8 526.28 L1432.38 525.56 L1433.97 524.82 L1435.55 524.08 L1437.13 523.32 L1438.71 522.55 L1440.3 521.78 L1441.88 520.99 L1443.46 520.19 L1445.04 519.38 L1446.63 518.55 L1448.21 517.72 L1449.79 516.88 L1451.37 516.03 L1452.96 515.18 L1454.54 514.32 L1456.12 513.46 L1457.7 512.61 L1459.29 511.75 L1460.87 510.9 L1462.45 510.05 L1464.03 509.21 L1465.62 508.38 L1467.2 507.57 L1468.78 506.76 L1470.37 505.97 L1471.95 505.19 L1473.53 504.44 L1475.11 503.69 L1476.7 502.96 L1478.28 502.25 L1479.86 501.55 L1481.44 500.87 L1483.03 500.2 L1484.61 499.55 L1486.19 498.91 L1487.77 498.28 L1489.36 497.67 L1490.94 497.07 L1492.52 496.49 L1494.1 495.92 L1495.69 495.36 L1497.27 494.82 L1498.85 494.29 L1500.43 493.77 L1502.02 493.26 L1503.6 492.77 L1505.18 492.29 L1506.77 491.82 L1508.35 491.36 L1509.93 490.92 L1511.51 490.48 L1513.1 490.06 L1514.68 489.65 L1516.26 489.25 L1517.84 488.86 L1519.43 488.48 L1521.01 488.11 L1522.59 487.76 L1524.17 487.41 L1525.76 487.07 L1527.34 486.74 L1528.92 486.42 L1530.5 486.12 L1532.09 485.82 L1533.67 485.53 L1535.25 485.24 L1536.83 484.97 L1538.42 484.71 L1540 484.45 L1541.58 484.2 L1543.17 483.96 L1544.75 483.73 L1546.33 483.51 L1547.91 483.29 L1549.5 483.08 L1551.08 482.88 L1552.66 482.69 L1554.24 482.5 L1555.83 482.32 L1557.41 482.14 L1558.99 481.97 L1560.57 481.81 L1562.16 481.65 L1563.74 481.5 L1565.32 481.36 L1566.9 481.22 L1568.49 481.08 L1570.07 480.95 L1571.65 480.83 L1573.23 480.71 L1574.82 480.59 L1576.4 480.48 L1577.98 480.37 L1579.57 480.27 L1581.15 480.17 L1582.73 480.07 L1584.31 479.98 L1585.9 479.89 L1587.48 479.81 L1589.06 479.73 L1590.64 479.65 L1592.23 479.57 L1593.81 479.49 L1595.39 479.42 L1596.97 479.35 L1598.56 479.28 L1600.14 479.21 L1601.72 479.15 L1603.3 479.08 L1604.89 479.02 L1606.47 478.96 L1608.05 478.9 L1609.63 478.84 L1611.22 478.78 L1612.8 478.72 L1614.38 478.66 L1615.97 478.6 L1617.55 478.54 L1619.13 478.48 L1620.71 478.42 L1622.3 478.36 L1623.88 478.3 L1625.46 478.24 L1627.04 478.17 L1628.63 478.11 L1630.21 478.05 L1631.79 477.99 L1633.37 477.93 L1634.96 477.87 L1636.54 477.81 L1638.12 477.75 L1639.7 477.7 L1641.29 477.65 L1642.87 477.6 L1644.45 477.55 L1646.03 477.5 L1647.62 477.46 L1649.2 477.42 L1650.78 477.39 L1652.37 477.36 L1653.95 477.33 L1655.53 477.3 L1657.11 477.28 L1658.7 477.27 L1660.28 477.26 L1661.86 477.26 L1663.44 477.26 L1665.03 477.26 L1666.61 477.28 L1668.19 477.29 L1669.77 477.32 L1671.36 477.35 L1672.94 477.39 L1674.52 477.43 L1676.1 477.49 L1677.69 477.55 L1679.27 477.61 L1680.85 477.69 L1682.43 477.78 L1684.02 477.87 L1685.6 477.97 L1687.18 478.08 L1688.77 478.2 L1690.35 478.33 L1691.93 478.47 L1693.51 478.62 L1695.1 478.78 L1696.68 478.95 L1698.26 479.13 L1699.84 479.32 L1701.43 479.52 L1703.01 479.73 L1704.59 479.96 L1706.17 480.2 L1707.76 480.44 L1709.34 480.71 L1710.92 480.98 L1712.5 481.27 L1714.09 481.57 L1715.67 481.88 L1717.25 482.21 L1718.83 482.55 L1720.42 482.9 L1722 483.27 L1723.58 483.66 L1725.17 484.06 L1726.75 484.47 L1728.33 484.9 L1729.91 485.34 L1731.5 485.8 L1733.08 486.28 L1734.66 486.77 L1736.24 487.28 L1737.83 487.8 L1739.41 488.34 L1740.99 488.9 L1742.57 489.48 L1744.16 490.07 L1745.74 490.69 L1747.32 491.32 L1748.9 491.97 L1750.49 492.63 L1752.07 493.32 L1753.65 494.02 L1755.23 494.75 L1756.82 495.49 L1758.4 496.26 L1759.98 497.05 L1761.57 497.87 L1763.15 498.72 L1764.73 499.59 L1766.31 500.49 L1767.9 501.43 L1769.48 502.39 L1771.06 503.4 L1772.64 504.43 L1774.23 505.51 L1775.81 506.62 L1777.39 507.77 L1778.97 508.97 L1780.56 510.2 L1782.14 511.48 L1783.72 512.81 L1785.3 514.19 L1786.89 515.61 L1788.47 517.08 L1790.05 518.61 L1791.63 520.19 L1793.22 521.81 L1794.8 523.48 L1796.38 525.17 L1797.97 526.88 L1799.55 528.6 L1801.13 530.32 L1802.71 532.03 L1804.3 533.72 L1805.88 535.38 L1807.46 537 L1809.04 538.57 L1810.63 540.09 L1812.21 541.55 L1813.79 542.94 L1815.37 544.27 L1816.96 545.51 L1818.54 546.68 L1820.12 547.76 L1821.7 548.74 L1823.29 549.63 L1824.87 550.42 L1826.45 551.1 L1828.03 551.67 L1829.62 552.12 L1831.2 552.44" fill="none" stroke="#000" stroke-width="4.4" stroke-linejoin="round" stroke-dasharray="16.28 7.04" stroke-dashoffset="8.6"/>
<path d="M1446.2 507.78 l7.2 11 l-7.2 11 l-7.2 -11z" fill="#000"/>
<path d="M1557.2 471.16 l7.2 11 l-7.2 11 l-7.2 -11z" fill="#000"/>
<path d="M1621.6 467.39 l7.2 11 l-7.2 11 l-7.2 -11z" fill="#000"/>
<path d="M1666.6 466.28 l7.2 11 l-7.2 11 l-7.2 -11z" fill="#000"/>
<path d="M1702.6 468.68 l7.2 11 l-7.2 11 l-7.2 -11z" fill="#000"/>
<path d="M1730.5 474.51 l7.2 11 l-7.2 11 l-7.2 -11z" fill="#000"/>
<path d="M1753.8 483.09 l7.2 11 l-7.2 11 l-7.2 -11z" fill="#000"/>
<path d="M1773.8 494.21 l7.2 11 l-7.2 11 l-7.2 -11z" fill="#000"/>
<path d="M1791.2 508.75 l7.2 11 l-7.2 11 l-7.2 -11z" fill="#000"/>
<path d="M1806.5 525.02 l7.2 11 l-7.2 11 l-7.2 -11z" fill="#000"/>
<path d="M1819 536 l7.2 11 l-7.2 11 l-7.2 -11z" fill="#000"/>
<path d="M1831.2 541.44 l7.2 11 l-7.2 11 l-7.2 -11z" fill="#000"/>
<path d="M1492.72 497.6 L1493.83 497.09 L1494.94 496.58 L1496.05 496.07 L1497.17 495.58 L1498.28 495.09 L1499.39 494.6 L1500.5 494.13 L1501.61 493.66 L1502.72 493.19 L1503.84 492.73 L1504.95 492.27 L1506.06 491.82 L1507.17 491.38 L1508.28 490.94 L1509.39 490.51 L1510.5 490.09 L1511.62 489.67 L1512.73 489.23 L1513.84 488.8 L1514.95 488.36 L1516.06 487.93 L1517.17 487.52 L1518.29 487.14 L1519.4 486.79 L1520.51 486.49 L1521.62 486.23 L1522.73 486 L1523.84 485.78 L1524.96 485.57 L1526.07 485.37 L1527.18 485.19 L1528.29 485.04 L1529.4 484.9 L1530.51 484.78 L1531.62 484.69 L1532.74 484.61 L1533.85 484.53 L1534.96 484.46 L1536.07 484.39 L1537.18 484.32 L1538.29 484.26 L1539.41 484.2 L1540.52 484.15 L1541.63 484.1 L1542.74 484.07 L1543.85 484.04 L1544.96 484.01 L1546.08 484 L1547.19 484 L1548.3 484.07 L1549.41 484.22 L1550.52 484.43 L1551.63 484.68 L1552.74 484.94 L1553.86 485.2 L1554.97 485.45 L1556.08 485.65 L1557.19 485.8 L1558.3 485.91 L1559.41 486.02 L1560.53 486.12 L1561.64 486.22 L1562.75 486.32 L1563.86 486.41 L1564.97 486.5 L1566.08 486.57 L1567.2 486.64 L1568.31 486.7 L1569.42 486.74 L1570.53 486.78 L1571.64 486.8 L1572.75 486.8 L1573.86 486.75 L1574.98 486.65 L1576.09 486.52 L1577.2 486.37 L1578.31 486.24 L1579.42 486.15 L1580.53 486.1 L1581.65 486.13 L1582.76 486.21 L1583.87 486.35 L1584.98 486.52 L1586.09 486.71 L1587.2 486.91 L1588.32 487.11 L1589.43 487.29 L1590.54 487.44 L1591.65 487.55 L1592.76 487.6 L1593.87 487.6 L1594.99 487.58 L1596.1 487.56 L1597.21 487.53 L1598.32 487.48 L1599.43 487.43 L1600.54 487.37 L1601.65 487.3 L1602.77 487.22 L1603.88 487.14 L1604.99 487.05 L1606.1 486.92 L1607.21 486.61 L1608.32 486.16 L1609.44 485.64 L1610.55 485.11 L1611.66 484.65 L1612.77 484.31 L1613.88 484.17 L1614.99 484.09 L1616.11 484.03 L1617.22 483.98 L1618.33 483.94 L1619.44 483.91 L1620.55 483.87 L1621.66 483.82 L1622.77 483.77 L1623.89 483.69 L1625 483.59 L1626.11 483.45 L1627.22 483.29 L1628.33 483.11 L1629.44 482.92 L1630.56 482.73 L1631.67 482.54 L1632.78 482.37 L1633.89 482.21 L1635 482.07 L1636.11 481.93 L1637.23 481.78 L1638.34 481.62 L1639.45 481.47 L1640.56 481.32 L1641.67 481.18 L1642.78 481.04 L1643.89 480.91 L1645.01 480.8 L1646.12 480.7 L1647.23 480.62 L1648.34 480.55 L1649.45 480.51 L1650.56 480.5 L1651.68 480.52 L1652.79 480.58 L1653.9 480.68 L1655.01 480.81 L1656.12 480.96 L1657.23 481.14 L1658.35 481.33 L1659.46 481.53 L1660.57 481.74 L1661.68 481.95 L1662.79 482.16 L1663.9 482.35 L1665.01 482.53 L1666.13 482.72 L1667.24 482.93 L1668.35 483.15 L1669.46 483.39 L1670.57 483.62 L1671.68 483.86 L1672.8 484.09 L1673.91 484.31 L1675.02 484.51 L1676.13 484.7 L1677.24 484.87 L1678.35 485.01 L1679.47 485.11 L1680.58 485.2 L1681.69 485.27 L1682.8 485.34 L1683.91 485.4 L1685.02 485.46 L1686.13 485.51 L1687.25 485.55 L1688.36 485.6 L1689.47 485.64 L1690.58 485.68 L1691.69 485.72 L1692.8 485.76 L1693.92 485.81 L1695.03 485.86 L1696.14 485.92 L1697.25 485.98 L1698.36 486.05 L1699.47 486.13 L1700.59 486.22 L1701.7 486.32 L1702.81 486.46 L1703.92 486.61 L1705.03 486.78 L1706.14 486.97 L1707.25 487.17 L1708.37 487.39 L1709.48 487.61 L1710.59 487.84 L1711.7 488.07 L1712.81 488.31 L1713.92 488.55 L1715.04 488.78 L1716.15 489.01 L1717.26 489.23 L1718.37 489.47 L1719.48 489.74 L1720.59 490.02 L1721.71 490.32 L1722.82 490.61 L1723.93 490.91 L1725.04 491.19 L1726.15 491.45 L1727.26 491.69 L1728.38 491.89 L1729.49 492.06 L1730.6 492.18 L1731.71 492.25 L1732.82 492.31 L1733.93 492.35 L1735.04 492.39 L1736.16 492.42 L1737.27 492.45 L1738.38 492.48 L1739.49 492.52 L1740.6 492.57 L1741.71 492.63 L1742.83 492.72 L1743.94 492.9 L1745.05 493.22 L1746.16 493.65 L1747.27 494.17 L1748.38 494.76 L1749.5 495.4 L1750.61 496.08 L1751.72 496.77 L1752.83 497.45 L1753.94 498.17 L1755.05 499.02 L1756.16 499.94 L1757.28 500.92 L1758.39 501.93 L1759.5 502.93 L1760.61 503.89 L1761.72 504.78 L1762.83 505.6 L1763.95 506.38 L1765.06 507.13 L1766.17 507.87 L1767.28 508.59 L1768.39 509.32 L1769.5 510.05 L1770.62 510.79 L1771.73 511.54 L1772.84 512.28 L1773.95 513.02 L1775.06 513.76 L1776.17 514.52 L1777.28 515.29 L1778.4 516.07 L1779.51 516.84 L1780.62 517.63 L1781.73 518.44 L1782.84 519.27 L1783.95 520.15 L1785.07 521.1 L1786.18 522.12 L1787.29 523.2 L1788.4 524.3 L1789.51 525.41 L1790.62 526.5 L1791.74 527.56 L1792.85 528.61 L1793.96 529.67 L1795.07 530.72 L1796.18 531.77 L1797.29 532.81 L1798.4 533.84 L1799.52 534.87 L1800.63 535.9 L1801.74 536.91 L1802.85 537.9 L1803.96 538.88 L1805.07 539.86 L1806.19 540.85 L1807.3 541.86 L1808.41 542.91 L1809.52 543.97 L1810.63 545.03 L1811.74 546.06 L1812.86 547.07 L1813.97 548.07 L1815.08 549.05 L1816.19 550.01 L1817.3 551.01 L1818.41 552.02 L1819.52 552.92 L1820.64 553.61 L1821.75 554.17 L1822.86 554.66 L1823.97 555.04 L1825.08 555.3" fill="none" stroke="#1f77b4" stroke-width="4.4" stroke-linejoin="round" stroke-linecap="square"/>
<path d="M1492.72 486.6 l7.2 11 l-7.2 11 l-7.2 -11z" fill="#1f77b4"/>
<path d="M1605.53 476 l7.2 11 l-7.2 11 l-7.2 -11z" fill="#1f77b4"/>
<path d="M1650.63 469.5 l7.2 11 l-7.2 11 l-7.2 -11z" fill="#1f77b4"/>
<path d="M1679.32 474.1 l7.2 11 l-7.2 11 l-7.2 -11z" fill="#1f77b4"/>
<path d="M1700.41 475.2 l7.2 11 l-7.2 11 l-7.2 -11z" fill="#1f77b4"/>
<path d="M1717.09 478.2 l7.2 11 l-7.2 11 l-7.2 -11z" fill="#1f77b4"/>
<path d="M1730.88 481.2 l7.2 11 l-7.2 11 l-7.2 -11z" fill="#1f77b4"/>
<path d="M1742.65 481.7 l7.2 11 l-7.2 11 l-7.2 -11z" fill="#1f77b4"/>
<path d="M1752.91 486.5 l7.2 11 l-7.2 11 l-7.2 -11z" fill="#1f77b4"/>
<path d="M1762.01 494 l7.2 11 l-7.2 11 l-7.2 -11z" fill="#1f77b4"/>
<path d="M1770.18 499.5 l7.2 11 l-7.2 11 l-7.2 -11z" fill="#1f77b4"/>
<path d="M1777.59 504.5 l7.2 11 l-7.2 11 l-7.2 -11z" fill="#1f77b4"/>
<path d="M1784.37 509.5 l7.2 11 l-7.2 11 l-7.2 -11z" fill="#1f77b4"/>
<path d="M1790.63 515.5 l7.2 11 l-7.2 11 l-7.2 -11z" fill="#1f77b4"/>
<path d="M1796.43 521 l7.2 11 l-7.2 11 l-7.2 -11z" fill="#1f77b4"/>
<path d="M1801.84 526 l7.2 11 l-7.2 11 l-7.2 -11z" fill="#1f77b4"/>
<path d="M1806.91 530.5 l7.2 11 l-7.2 11 l-7.2 -11z" fill="#1f77b4"/>
<path d="M1811.68 535 l7.2 11 l-7.2 11 l-7.2 -11z" fill="#1f77b4"/>
<path d="M1816.17 539 l7.2 11 l-7.2 11 l-7.2 -11z" fill="#1f77b4"/>
<path d="M1820.43 542.5 l7.2 11 l-7.2 11 l-7.2 -11z" fill="#1f77b4"/>
<path d="M1492.72 482.7 L1493.83 482.7 L1494.94 482.7 L1496.05 482.7 L1497.17 482.7 L1498.28 482.7 L1499.39 482.7 L1500.5 482.7 L1501.61 482.7 L1502.72 482.7 L1503.84 482.7 L1504.95 482.7 L1506.06 482.7 L1507.17 482.7 L1508.28 482.7 L1509.39 482.69 L1510.5 482.69 L1511.62 482.69 L1512.73 482.69 L1513.84 482.69 L1514.95 482.69 L1516.06 482.69 L1517.17 482.69 L1518.29 482.69 L1519.4 482.69 L1520.51 482.69 L1521.62 482.68 L1522.73 482.68 L1523.84 482.68 L1524.96 482.68 L1526.07 482.68 L1527.18 482.68 L1528.29 482.68 L1529.4 482.67 L1530.51 482.67 L1531.62 482.67 L1532.74 482.67 L1533.85 482.67 L1534.96 482.67 L1536.07 482.67 L1537.18 482.66 L1538.29 482.66 L1539.41 482.66 L1540.52 482.66 L1541.63 482.66 L1542.74 482.65 L1543.85 482.65 L1544.96 482.65 L1546.08 482.65 L1547.19 482.65 L1548.3 482.64 L1549.41 482.64 L1550.52 482.64 L1551.63 482.64 L1552.74 482.64 L1553.86 482.63 L1554.97 482.63 L1556.08 482.63 L1557.19 482.63 L1558.3 482.62 L1559.41 482.62 L1560.53 482.62 L1561.64 482.62 L1562.75 482.61 L1563.86 482.61 L1564.97 482.61 L1566.08 482.61 L1567.2 482.6 L1568.31 482.6 L1569.42 482.6 L1570.53 482.6 L1571.64 482.59 L1572.75 482.59 L1573.86 482.59 L1574.98 482.59 L1576.09 482.58 L1577.2 482.58 L1578.31 482.58 L1579.42 482.57 L1580.53 482.57 L1581.65 482.57 L1582.76 482.57 L1583.87 482.56 L1584.98 482.56 L1586.09 482.56 L1587.2 482.55 L1588.32 482.55 L1589.43 482.55 L1590.54 482.54 L1591.65 482.54 L1592.76 482.54 L1593.87 482.53 L1594.99 482.53 L1596.1 482.53 L1597.21 482.52 L1598.32 482.52 L1599.43 482.52 L1600.54 482.52 L1601.65 482.51 L1602.77 482.51 L1603.88 482.51 L1604.99 482.5 L1606.1 482.5 L1607.21 482.49 L1608.32 482.49 L1609.44 482.48 L1610.55 482.48 L1611.66 482.47 L1612.77 482.46 L1613.88 482.46 L1614.99 482.45 L1616.11 482.44 L1617.22 482.43 L1618.33 482.42 L1619.44 482.41 L1620.55 482.4 L1621.66 482.39 L1622.77 482.38 L1623.89 482.37 L1625 482.36 L1626.11 482.35 L1627.22 482.34 L1628.33 482.33 L1629.44 482.32 L1630.56 482.31 L1631.67 482.3 L1632.78 482.29 L1633.89 482.28 L1635 482.27 L1636.11 482.26 L1637.23 482.26 L1638.34 482.25 L1639.45 482.24 L1640.56 482.23 L1641.67 482.23 L1642.78 482.22 L1643.89 482.22 L1645.01 482.21 L1646.12 482.21 L1647.23 482.2 L1648.34 482.2 L1649.45 482.2 L1650.56 482.2 L1651.68 482.2 L1652.79 482.21 L1653.9 482.22 L1655.01 482.24 L1656.12 482.27 L1657.23 482.3 L1658.35 482.33 L1659.46 482.36 L1660.57 482.4 L1661.68 482.45 L1662.79 482.49 L1663.9 482.54 L1665.01 482.59 L1666.13 482.64 L1667.24 482.7 L1668.35 482.75 L1669.46 482.81 L1670.57 482.87 L1671.68 482.92 L1672.8 482.98 L1673.91 483.04 L1675.02 483.09 L1676.13 483.15 L1677.24 483.2 L1678.35 483.26 L1679.47 483.31 L1680.58 483.35 L1681.69 483.4 L1682.8 483.45 L1683.91 483.49 L1685.02 483.54 L1686.13 483.59 L1687.25 483.63 L1688.36 483.68 L1689.47 483.73 L1690.58 483.78 L1691.69 483.84 L1692.8 483.9 L1693.92 483.96 L1695.03 484.02 L1696.14 484.09 L1697.25 484.16 L1698.36 484.24 L1699.47 484.33 L1700.59 484.42 L1701.7 484.52 L1702.81 484.66 L1703.92 484.81 L1705.03 484.98 L1706.14 485.17 L1707.25 485.37 L1708.37 485.59 L1709.48 485.81 L1710.59 486.04 L1711.7 486.27 L1712.81 486.51 L1713.92 486.75 L1715.04 486.98 L1716.15 487.21 L1717.26 487.43 L1718.37 487.65 L1719.48 487.87 L1720.59 488.09 L1721.71 488.32 L1722.82 488.55 L1723.93 488.78 L1725.04 489.02 L1726.15 489.26 L1727.26 489.51 L1728.38 489.77 L1729.49 490.04 L1730.6 490.33 L1731.71 490.62 L1732.82 490.93 L1733.93 491.25 L1735.04 491.58 L1736.16 491.92 L1737.27 492.28 L1738.38 492.65 L1739.49 493.04 L1740.6 493.43 L1741.71 493.84 L1742.83 494.27 L1743.94 494.71 L1745.05 495.19 L1746.16 495.68 L1747.27 496.2 L1748.38 496.73 L1749.5 497.28 L1750.61 497.83 L1751.72 498.39 L1752.83 498.96 L1753.94 499.52 L1755.05 500.1 L1756.16 500.69 L1757.28 501.28 L1758.39 501.9 L1759.5 502.52 L1760.61 503.17 L1761.72 503.83 L1762.83 504.51 L1763.95 505.23 L1765.06 505.97 L1766.17 506.73 L1767.28 507.5 L1768.39 508.28 L1769.5 509.04 L1770.62 509.79 L1771.73 510.54 L1772.84 511.28 L1773.95 512.02 L1775.06 512.76 L1776.17 513.52 L1777.28 514.29 L1778.4 515.07 L1779.51 515.84 L1780.62 516.63 L1781.73 517.44 L1782.84 518.27 L1783.95 519.15 L1785.07 520.1 L1786.18 521.12 L1787.29 522.2 L1788.4 523.3 L1789.51 524.41 L1790.62 525.5 L1791.74 526.56 L1792.85 527.61 L1793.96 528.67 L1795.07 529.72 L1796.18 530.77 L1797.29 531.81 L1798.4 532.84 L1799.52 533.87 L1800.63 534.9 L1801.74 535.91 L1802.85 536.9 L1803.96 537.88 L1805.07 538.86 L1806.19 539.85 L1807.3 540.86 L1808.41 541.91 L1809.52 542.97 L1810.63 544.03 L1811.74 545.06 L1812.86 546.07 L1813.97 547.07 L1815.08 548.05 L1816.19 549.01 L1817.3 549.97 L1818.41 550.93 L1819.52 551.83 L1820.64 552.64 L1821.75 553.39 L1822.86 554.08 L1823.97 554.72 L1825.08 555.3" fill="none" stroke="#d62728" stroke-width="4.4" stroke-linejoin="round" stroke-dasharray="28.16 7.04 4.4 7.04"/>
<path d="M1492.72 471.7 l7.2 11 l-7.2 11 l-7.2 -11z" fill="#d62728"/>
<path d="M1605.53 471.5 l7.2 11 l-7.2 11 l-7.2 -11z" fill="#d62728"/>
<path d="M1650.63 471.2 l7.2 11 l-7.2 11 l-7.2 -11z" fill="#d62728"/>
<path d="M1679.32 472.3 l7.2 11 l-7.2 11 l-7.2 -11z" fill="#d62728"/>
<path d="M1700.41 473.4 l7.2 11 l-7.2 11 l-7.2 -11z" fill="#d62728"/>
<path d="M1717.09 476.4 l7.2 11 l-7.2 11 l-7.2 -11z" fill="#d62728"/>
<path d="M1730.88 479.4 l7.2 11 l-7.2 11 l-7.2 -11z" fill="#d62728"/>
<path d="M1742.65 483.2 l7.2 11 l-7.2 11 l-7.2 -11z" fill="#d62728"/>
<path d="M1752.91 488 l7.2 11 l-7.2 11 l-7.2 -11z" fill="#d62728"/>
<path d="M1762.01 493 l7.2 11 l-7.2 11 l-7.2 -11z" fill="#d62728"/>
<path d="M1770.18 498.5 l7.2 11 l-7.2 11 l-7.2 -11z" fill="#d62728"/>
<path d="M1777.59 503.5 l7.2 11 l-7.2 11 l-7.2 -11z" fill="#d62728"/>
<path d="M1784.37 508.5 l7.2 11 l-7.2 11 l-7.2 -11z" fill="#d62728"/>
<path d="M1790.63 514.5 l7.2 11 l-7.2 11 l-7.2 -11z" fill="#d62728"/>
<path d="M1796.43 520 l7.2 11 l-7.2 11 l-7.2 -11z" fill="#d62728"/>
<path d="M1801.84 525 l7.2 11 l-7.2 11 l-7.2 -11z" fill="#d62728"/>
<path d="M1806.91 529.5 l7.2 11 l-7.2 11 l-7.2 -11z" fill="#d62728"/>
<path d="M1811.68 534 l7.2 11 l-7.2 11 l-7.2 -11z" fill="#d62728"/>
<path d="M1816.17 538 l7.2 11 l-7.2 11 l-7.2 -11z" fill="#d62728"/>
<path d="M1820.43 541.5 l7.2 11 l-7.2 11 l-7.2 -11z" fill="#d62728"/>
</g>
<path d="M1441.26 640.1 v7.9 M1625.86 640.1 v7.9 M1810.47 640.1 v7.9 M1367.8 555.5 h-7.9 M1367.8 469.22 h-7.9 M1367.8 382.94 h-7.9 M1367.8 296.66 h-7.9 M1367.8 210.38 h-7.9 M1367.8 124.1 h-7.9" stroke="#000" stroke-width="1.7" fill="none"/>
<path d="M1367.8 640.1 v4.5 M1385.69 640.1 v4.5 M1400.31 640.1 v4.5 M1412.67 640.1 v4.5 M1423.37 640.1 v4.5 M1432.81 640.1 v4.5 M1496.83 640.1 v4.5 M1529.34 640.1 v4.5 M1552.4 640.1 v4.5 M1570.29 640.1 v4.5 M1584.91 640.1 v4.5 M1597.27 640.1 v4.5 M1607.97 640.1 v4.5 M1617.42 640.1 v4.5 M1681.43 640.1 v4.5 M1713.94 640.1 v4.5 M1737.01 640.1 v4.5 M1754.89 640.1 v4.5 M1769.51 640.1 v4.5 M1781.87 640.1 v4.5 M1792.58 640.1 v4.5 M1802.02 640.1 v4.5" stroke="#000" stroke-width="1.6" fill="none"/>
<rect x="1367.8" y="45.9" width="463.7" height="594.2" fill="none" stroke="#000" stroke-width="2.0"/>
<text transform="translate(1407.23 679.5) scale(1 0.985)" font-family="'DejaVu Serif','Liberation Serif',serif" font-size="30.5">10<tspan dx="-1.1" dy="-11.07" font-size="22.1">−2</tspan></text>
<text transform="translate(1591.83 679.5) scale(1 0.985)" font-family="'DejaVu Serif','Liberation Serif',serif" font-size="30.5">10<tspan dx="-1.1" dy="-11.07" font-size="22.1">−1</tspan></text>
<text transform="translate(1784.28 679.5) scale(1 0.985)" font-family="'DejaVu Serif','Liberation Serif',serif" font-size="30.5">10<tspan dx="-0" dy="-11.07" font-size="22.1">0</tspan></text>
<text transform="translate(1351.8 567.9) scale(1 1.012)" text-anchor="end" font-family="'DejaVu Serif','Liberation Serif',serif" font-size="30.5">0.0</text>
<text transform="translate(1351.8 481.62) scale(1 1.012)" text-anchor="end" font-family="'DejaVu Serif','Liberation Serif',serif" font-size="30.5">0.2</text>
<text transform="translate(1351.8 395.34) scale(1 1.012)" text-anchor="end" font-family="'DejaVu Serif','Liberation Serif',serif" font-size="30.5">0.4</text>
<text transform="translate(1351.8 309.06) scale(1 1.012)" text-anchor="end" font-family="'DejaVu Serif','Liberation Serif',serif" font-size="30.5">0.6</text>
<text transform="translate(1351.8 222.78) scale(1 1.012)" text-anchor="end" font-family="'DejaVu Serif','Liberation Serif',serif" font-size="30.5">0.8</text>
<text transform="translate(1351.8 136.5) scale(1 1.012)" text-anchor="end" font-family="'DejaVu Serif','Liberation Serif',serif" font-size="30.5">1.0</text>
<text transform="translate(1599.65 719.4) scale(1 1.06)" text-anchor="middle" font-family="'DejaVu Sans','Liberation Sans',sans-serif" font-size="30.8"><tspan font-style="italic">y</tspan>/<tspan font-style="italic">δ</tspan></text>
<text font-family="'Liberation Serif','DejaVu Serif',serif" stroke="#fff" stroke-width="0.7"><tspan x="3.7" y="40" font-size="56" textLength="14.55" lengthAdjust="spacingAndGlyphs">(</tspan><tspan x="19.6" y="38.5" font-size="48.5" textLength="24.76" lengthAdjust="spacingAndGlyphs">a</tspan><tspan x="46" y="40" font-size="56" textLength="14.55" lengthAdjust="spacingAndGlyphs">)</tspan></text>
<text font-family="'Liberation Serif','DejaVu Serif',serif" stroke="#fff" stroke-width="0.7"><tspan x="651.1" y="40" font-size="56" textLength="14.55" lengthAdjust="spacingAndGlyphs">(</tspan><tspan x="669.1" y="38.5" font-size="48.7" textLength="26.3" lengthAdjust="spacingAndGlyphs">b</tspan><tspan x="696.3" y="40" font-size="56" textLength="14.55" lengthAdjust="spacingAndGlyphs">)</tspan></text>
<text font-family="'Liberation Serif','DejaVu Serif',serif" stroke="#fff" stroke-width="0.7"><tspan x="1280" y="40" font-size="56" textLength="14.55" lengthAdjust="spacingAndGlyphs">(</tspan><tspan x="1296.6" y="38.5" font-size="50" textLength="22.2" lengthAdjust="spacingAndGlyphs">c</tspan><tspan x="1320" y="40" font-size="56" textLength="14.55" lengthAdjust="spacingAndGlyphs">)</tspan></text>
<text transform="translate(747.6 39.9) scale(1 1.012)" font-family="'DejaVu Serif','Liberation Serif',serif" font-size="30.5">1e−3</text>
<text transform="translate(1368.2 39.9) scale(1 1.012)" font-family="'DejaVu Serif','Liberation Serif',serif" font-size="30.5">1e−2</text>
<path d="M153.5 86 H215.8" stroke="#000" stroke-width="4.4" stroke-dasharray="16.28 7.04" fill="none"/>
<path d="M153.5 131.4 H215.8" stroke="#1f77b4" stroke-width="4.4" stroke-linecap="square" fill="none"/>
<path d="M153.5 176.2 H215.8" stroke="#d62728" stroke-width="4.4" stroke-dasharray="16.28 7.04" fill="none"/>
<text transform="translate(240.2 97.7) scale(1 1.012)" font-family="'DejaVu Serif','Liberation Serif',serif" font-size="30.5">LES</text>
<text transform="translate(240.2 142.9) scale(1 1.012)" font-family="'DejaVu Serif','Liberation Serif',serif" font-size="30.5">PIV</text>
<text transform="translate(240.2 187.1) scale(1 1.012)" font-family="'DejaVu Serif','Liberation Serif',serif" font-size="30.5">PINN</text>
<text transform="translate(46.9 343.9) rotate(-90) scale(1 1.11)" text-anchor="middle" font-family="'DejaVu Sans','Liberation Sans',sans-serif" font-size="30.8" font-style="italic">U</text>
<text transform="translate(36.7 340.9) rotate(-90)" text-anchor="middle" font-family="'DejaVu Sans','Liberation Sans',sans-serif" font-size="30.8">ˆ</text>
<text transform="translate(696.2 345) rotate(-90) scale(1 1.1)" text-anchor="middle" font-family="'DejaVu Sans','Liberation Sans',sans-serif" font-size="30.8" font-style="italic">V</text>
<text transform="translate(685.4 342) rotate(-90)" text-anchor="middle" font-family="'DejaVu Sans','Liberation Sans',sans-serif" font-size="30.8">ˆ</text>
<text transform="translate(1288.1 343.2) rotate(-90) scale(1 1.06)" text-anchor="middle" font-family="'DejaVu Sans','Liberation Sans',sans-serif" font-size="30.8" font-style="italic" word-spacing="-1.8" letter-spacing="-0.33">uu, vv, uv</text>
<text transform="translate(1284 393.3) rotate(-90)" text-anchor="middle" font-family="'DejaVu Sans','Liberation Sans',sans-serif" font-size="30.8">ˆ</text>
<text transform="translate(1284 338.9) rotate(-90)" text-anchor="middle" font-family="'DejaVu Sans','Liberation Sans',sans-serif" font-size="30.8">ˆ</text>
<text transform="translate(1284 284.9) rotate(-90)" text-anchor="middle" font-family="'DejaVu Sans','Liberation Sans',sans-serif" font-size="30.8">ˆ</text>
</svg></body></html>
